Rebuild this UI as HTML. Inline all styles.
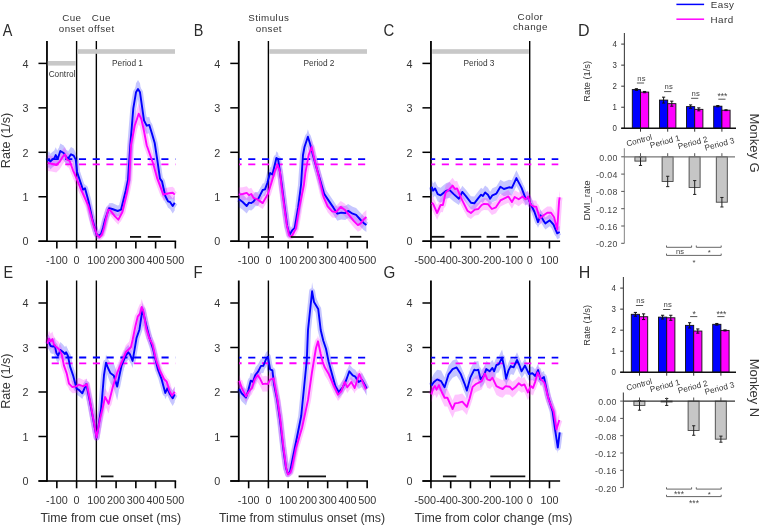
<!DOCTYPE html>
<html><head><meta charset="utf-8"><style>
html,body{margin:0;padding:0;background:#fff;width:760px;height:525px;overflow:hidden}
svg{display:block}
text{font-family:"Liberation Sans", sans-serif}
</style></head><body>
<svg width="760" height="525" viewBox="0 0 760 525">
<line x1="46.97" y1="41.00" x2="46.97" y2="242.00" stroke="#000" stroke-width="1.8" />
<line x1="38.47" y1="241.20" x2="176.15" y2="241.20" stroke="#000" stroke-width="1.6" />
<line x1="38.47" y1="241.20" x2="46.97" y2="241.20" stroke="#000" stroke-width="1.5" />
<line x1="38.47" y1="196.75" x2="46.97" y2="196.75" stroke="#000" stroke-width="1.5" />
<line x1="38.47" y1="152.30" x2="46.97" y2="152.30" stroke="#000" stroke-width="1.5" />
<line x1="38.47" y1="107.85" x2="46.97" y2="107.85" stroke="#000" stroke-width="1.5" />
<line x1="38.47" y1="63.40" x2="46.97" y2="63.40" stroke="#000" stroke-width="1.5" />
<line x1="56.85" y1="241.20" x2="56.85" y2="248.50" stroke="#000" stroke-width="1.6" />
<line x1="76.60" y1="241.20" x2="76.60" y2="248.50" stroke="#000" stroke-width="1.6" />
<line x1="96.35" y1="241.20" x2="96.35" y2="248.50" stroke="#000" stroke-width="1.6" />
<line x1="116.10" y1="241.20" x2="116.10" y2="248.50" stroke="#000" stroke-width="1.6" />
<line x1="135.85" y1="241.20" x2="135.85" y2="248.50" stroke="#000" stroke-width="1.6" />
<line x1="155.60" y1="241.20" x2="155.60" y2="248.50" stroke="#000" stroke-width="1.6" />
<line x1="175.35" y1="241.20" x2="175.35" y2="248.50" stroke="#000" stroke-width="1.6" />
<line x1="238.77" y1="41.00" x2="238.77" y2="242.00" stroke="#000" stroke-width="1.8" />
<line x1="230.27" y1="241.20" x2="367.95" y2="241.20" stroke="#000" stroke-width="1.6" />
<line x1="230.27" y1="241.20" x2="238.77" y2="241.20" stroke="#000" stroke-width="1.5" />
<line x1="230.27" y1="196.75" x2="238.77" y2="196.75" stroke="#000" stroke-width="1.5" />
<line x1="230.27" y1="152.30" x2="238.77" y2="152.30" stroke="#000" stroke-width="1.5" />
<line x1="230.27" y1="107.85" x2="238.77" y2="107.85" stroke="#000" stroke-width="1.5" />
<line x1="230.27" y1="63.40" x2="238.77" y2="63.40" stroke="#000" stroke-width="1.5" />
<line x1="248.65" y1="241.20" x2="248.65" y2="248.50" stroke="#000" stroke-width="1.6" />
<line x1="268.40" y1="241.20" x2="268.40" y2="248.50" stroke="#000" stroke-width="1.6" />
<line x1="288.15" y1="241.20" x2="288.15" y2="248.50" stroke="#000" stroke-width="1.6" />
<line x1="307.90" y1="241.20" x2="307.90" y2="248.50" stroke="#000" stroke-width="1.6" />
<line x1="327.65" y1="241.20" x2="327.65" y2="248.50" stroke="#000" stroke-width="1.6" />
<line x1="347.40" y1="241.20" x2="347.40" y2="248.50" stroke="#000" stroke-width="1.6" />
<line x1="367.15" y1="241.20" x2="367.15" y2="248.50" stroke="#000" stroke-width="1.6" />
<line x1="430.95" y1="41.00" x2="430.95" y2="242.00" stroke="#000" stroke-width="1.8" />
<line x1="422.45" y1="241.20" x2="560.12" y2="241.20" stroke="#000" stroke-width="1.6" />
<line x1="422.45" y1="241.20" x2="430.95" y2="241.20" stroke="#000" stroke-width="1.5" />
<line x1="422.45" y1="196.75" x2="430.95" y2="196.75" stroke="#000" stroke-width="1.5" />
<line x1="422.45" y1="152.30" x2="430.95" y2="152.30" stroke="#000" stroke-width="1.5" />
<line x1="422.45" y1="107.85" x2="430.95" y2="107.85" stroke="#000" stroke-width="1.5" />
<line x1="422.45" y1="63.40" x2="430.95" y2="63.40" stroke="#000" stroke-width="1.5" />
<line x1="430.95" y1="241.20" x2="430.95" y2="248.50" stroke="#000" stroke-width="1.6" />
<line x1="450.70" y1="241.20" x2="450.70" y2="248.50" stroke="#000" stroke-width="1.6" />
<line x1="470.45" y1="241.20" x2="470.45" y2="248.50" stroke="#000" stroke-width="1.6" />
<line x1="490.20" y1="241.20" x2="490.20" y2="248.50" stroke="#000" stroke-width="1.6" />
<line x1="509.95" y1="241.20" x2="509.95" y2="248.50" stroke="#000" stroke-width="1.6" />
<line x1="529.70" y1="241.20" x2="529.70" y2="248.50" stroke="#000" stroke-width="1.6" />
<line x1="549.45" y1="241.20" x2="549.45" y2="248.50" stroke="#000" stroke-width="1.6" />
<line x1="46.97" y1="280.50" x2="46.97" y2="481.80" stroke="#000" stroke-width="1.8" />
<line x1="38.47" y1="481.00" x2="176.15" y2="481.00" stroke="#000" stroke-width="1.6" />
<line x1="38.47" y1="481.00" x2="46.97" y2="481.00" stroke="#000" stroke-width="1.5" />
<line x1="38.47" y1="436.50" x2="46.97" y2="436.50" stroke="#000" stroke-width="1.5" />
<line x1="38.47" y1="392.00" x2="46.97" y2="392.00" stroke="#000" stroke-width="1.5" />
<line x1="38.47" y1="347.50" x2="46.97" y2="347.50" stroke="#000" stroke-width="1.5" />
<line x1="38.47" y1="303.00" x2="46.97" y2="303.00" stroke="#000" stroke-width="1.5" />
<line x1="56.85" y1="481.00" x2="56.85" y2="488.30" stroke="#000" stroke-width="1.6" />
<line x1="76.60" y1="481.00" x2="76.60" y2="488.30" stroke="#000" stroke-width="1.6" />
<line x1="96.35" y1="481.00" x2="96.35" y2="488.30" stroke="#000" stroke-width="1.6" />
<line x1="116.10" y1="481.00" x2="116.10" y2="488.30" stroke="#000" stroke-width="1.6" />
<line x1="135.85" y1="481.00" x2="135.85" y2="488.30" stroke="#000" stroke-width="1.6" />
<line x1="155.60" y1="481.00" x2="155.60" y2="488.30" stroke="#000" stroke-width="1.6" />
<line x1="175.35" y1="481.00" x2="175.35" y2="488.30" stroke="#000" stroke-width="1.6" />
<line x1="238.77" y1="280.50" x2="238.77" y2="481.80" stroke="#000" stroke-width="1.8" />
<line x1="230.27" y1="481.00" x2="367.95" y2="481.00" stroke="#000" stroke-width="1.6" />
<line x1="230.27" y1="481.00" x2="238.77" y2="481.00" stroke="#000" stroke-width="1.5" />
<line x1="230.27" y1="436.50" x2="238.77" y2="436.50" stroke="#000" stroke-width="1.5" />
<line x1="230.27" y1="392.00" x2="238.77" y2="392.00" stroke="#000" stroke-width="1.5" />
<line x1="230.27" y1="347.50" x2="238.77" y2="347.50" stroke="#000" stroke-width="1.5" />
<line x1="230.27" y1="303.00" x2="238.77" y2="303.00" stroke="#000" stroke-width="1.5" />
<line x1="248.65" y1="481.00" x2="248.65" y2="488.30" stroke="#000" stroke-width="1.6" />
<line x1="268.40" y1="481.00" x2="268.40" y2="488.30" stroke="#000" stroke-width="1.6" />
<line x1="288.15" y1="481.00" x2="288.15" y2="488.30" stroke="#000" stroke-width="1.6" />
<line x1="307.90" y1="481.00" x2="307.90" y2="488.30" stroke="#000" stroke-width="1.6" />
<line x1="327.65" y1="481.00" x2="327.65" y2="488.30" stroke="#000" stroke-width="1.6" />
<line x1="347.40" y1="481.00" x2="347.40" y2="488.30" stroke="#000" stroke-width="1.6" />
<line x1="367.15" y1="481.00" x2="367.15" y2="488.30" stroke="#000" stroke-width="1.6" />
<line x1="430.95" y1="280.50" x2="430.95" y2="481.80" stroke="#000" stroke-width="1.8" />
<line x1="422.45" y1="481.00" x2="560.12" y2="481.00" stroke="#000" stroke-width="1.6" />
<line x1="422.45" y1="481.00" x2="430.95" y2="481.00" stroke="#000" stroke-width="1.5" />
<line x1="422.45" y1="436.50" x2="430.95" y2="436.50" stroke="#000" stroke-width="1.5" />
<line x1="422.45" y1="392.00" x2="430.95" y2="392.00" stroke="#000" stroke-width="1.5" />
<line x1="422.45" y1="347.50" x2="430.95" y2="347.50" stroke="#000" stroke-width="1.5" />
<line x1="422.45" y1="303.00" x2="430.95" y2="303.00" stroke="#000" stroke-width="1.5" />
<line x1="430.95" y1="481.00" x2="430.95" y2="488.30" stroke="#000" stroke-width="1.6" />
<line x1="450.70" y1="481.00" x2="450.70" y2="488.30" stroke="#000" stroke-width="1.6" />
<line x1="470.45" y1="481.00" x2="470.45" y2="488.30" stroke="#000" stroke-width="1.6" />
<line x1="490.20" y1="481.00" x2="490.20" y2="488.30" stroke="#000" stroke-width="1.6" />
<line x1="509.95" y1="481.00" x2="509.95" y2="488.30" stroke="#000" stroke-width="1.6" />
<line x1="529.70" y1="481.00" x2="529.70" y2="488.30" stroke="#000" stroke-width="1.6" />
<line x1="549.45" y1="481.00" x2="549.45" y2="488.30" stroke="#000" stroke-width="1.6" />
<line x1="76.60" y1="41.00" x2="76.60" y2="241.20" stroke="#000" stroke-width="1.4" />
<line x1="96.35" y1="41.00" x2="96.35" y2="241.20" stroke="#000" stroke-width="1.4" />
<line x1="76.60" y1="280.50" x2="76.60" y2="481.00" stroke="#000" stroke-width="1.4" />
<line x1="96.35" y1="280.50" x2="96.35" y2="481.00" stroke="#000" stroke-width="1.4" />
<line x1="268.40" y1="41.00" x2="268.40" y2="241.20" stroke="#000" stroke-width="1.4" />
<line x1="268.40" y1="280.50" x2="268.40" y2="481.00" stroke="#000" stroke-width="1.4" />
<line x1="529.70" y1="41.00" x2="529.70" y2="241.20" stroke="#000" stroke-width="1.4" />
<line x1="529.70" y1="280.50" x2="529.70" y2="481.00" stroke="#000" stroke-width="1.4" />
<rect x="47.80" y="61.00" width="28.00" height="4.60" fill="#c8c8c8" stroke="none" stroke-width="0"/>
<rect x="77.50" y="49.20" width="97.50" height="4.60" fill="#c8c8c8" stroke="none" stroke-width="0"/>
<rect x="269.20" y="49.20" width="97.80" height="4.60" fill="#c8c8c8" stroke="none" stroke-width="0"/>
<rect x="432.20" y="49.20" width="96.60" height="4.60" fill="#c8c8c8" stroke="none" stroke-width="0"/>
<line x1="676.40" y1="4.40" x2="704.10" y2="4.40" stroke="#0000ff" stroke-width="1.5" />
<line x1="676.40" y1="19.20" x2="704.10" y2="19.20" stroke="#ff00ff" stroke-width="1.5" />
<g opacity="0.22"><path d="M47.7,153.0 L49.0,151.1 L50.3,153.8 L52.3,151.9 L54.3,150.6 L55.7,147.3 L57.7,151.4 L60.3,143.5 L63.7,145.6 L66.3,149.7 L68.3,151.0 L71.0,147.1 L73.7,148.6 L75.7,152.7 L77.0,165.2 L80.3,176.7 L83.0,185.1 L85.0,184.0 L88.3,196.5 L92.3,215.8 L96.3,231.1 L98.5,233.2 L101.0,230.8 L103.0,224.4 L105.0,216.0 L109.0,203.2 L112.3,203.0 L117.7,205.5 L121.0,204.4 L125.7,186.3 L128.0,175.7 L130.3,140.8 L133.3,101.5 L136.0,83.3 L138.0,80.0 L140.0,83.3 L144.0,111.5 L146.7,117.3 L149.3,116.9 L152.0,126.7 L154.7,137.3 L157.3,155.7 L160.0,174.2 L162.0,176.3 L165.3,190.2 L168.0,194.9 L170.0,195.1 L172.7,198.5 L174.7,194.8 L174.7,210.6 L172.7,213.5 L170.0,208.9 L168.0,207.7 L165.3,201.8 L162.0,186.3 L160.0,183.2 L157.3,164.3 L154.7,148.7 L152.0,140.7 L149.3,133.1 L146.7,134.1 L144.0,129.1 L140.0,101.3 L138.0,98.0 L136.0,101.3 L133.3,115.1 L130.3,149.2 L128.0,184.3 L125.7,195.7 L121.0,214.9 L117.7,216.5 L112.3,215.0 L109.0,213.4 L105.0,224.0 L103.0,231.6 L101.0,237.2 L98.5,238.8 L96.3,236.3 L92.3,222.2 L88.3,204.1 L85.0,192.6 L83.0,194.3 L80.3,186.7 L77.0,178.2 L75.7,166.7 L73.7,162.8 L71.0,161.5 L68.3,165.6 L66.3,164.3 L63.7,160.4 L60.3,158.5 L57.7,166.6 L55.7,162.7 L54.3,166.0 L52.3,167.5 L50.3,169.6 L49.0,166.9 L47.7,169.0Z" fill="#0000ff" stroke="none"/><path d="M47.7,161.0 L49.0,159.0 L50.3,161.7 L52.3,159.7 L54.3,158.3 L55.7,155.0 L57.7,159.0 L60.3,151.0 L63.7,153.0 L66.3,157.0 L68.3,158.3 L71.0,154.3 L73.7,155.7 L75.7,159.7 L77.0,171.7 L80.3,181.7 L83.0,189.7 L85.0,188.3 L88.3,200.3 L92.3,219.0 L96.3,233.7 L98.5,236.0 L101.0,234.0 L103.0,228.0 L105.0,220.0 L109.0,208.3 L112.3,209.0 L117.7,211.0 L121.0,209.7 L125.7,191.0 L128.0,180.0 L130.3,145.0 L133.3,108.3 L136.0,92.3 L138.0,89.0 L140.0,92.3 L144.0,120.3 L146.7,125.7 L149.3,125.0 L152.0,133.7 L154.7,143.0 L157.3,160.0 L160.0,178.7 L162.0,181.3 L165.3,196.0 L168.0,201.3 L170.0,202.0 L172.7,206.0 L174.7,202.7" fill="none" stroke="#0000ff" stroke-width="6" stroke-linejoin="round"/></g>
<g opacity="0.22"><path d="M47.7,155.0 L51.7,155.9 L56.3,157.4 L59.7,154.2 L63.0,148.9 L65.0,147.0 L67.0,152.5 L69.7,153.9 L73.0,163.3 L76.3,171.0 L81.7,184.3 L88.3,200.4 L93.7,222.0 L97.0,232.5 L99.5,234.3 L102.0,231.1 L104.0,224.2 L106.0,214.9 L108.3,205.2 L110.3,205.7 L115.0,211.5 L118.3,214.7 L122.3,207.3 L127.0,187.3 L129.3,174.2 L131.0,138.2 L134.7,116.7 L138.7,103.0 L141.3,109.4 L144.0,122.6 L146.7,137.6 L153.3,157.7 L157.3,172.7 L163.3,188.7 L165.3,188.0 L169.3,187.3 L172.7,186.7 L174.7,188.7 L174.7,200.7 L172.7,198.7 L169.3,199.3 L165.3,200.0 L163.3,200.7 L157.3,184.7 L153.3,170.3 L146.7,153.0 L144.0,139.4 L141.3,128.6 L138.7,124.4 L134.7,134.7 L131.0,151.8 L129.3,185.8 L127.0,197.3 L122.3,217.3 L118.3,224.7 L115.0,221.2 L110.3,214.9 L108.3,214.2 L106.0,223.1 L104.0,231.8 L102.0,237.9 L99.5,240.3 L97.0,237.5 L93.7,229.4 L88.3,211.0 L81.7,197.7 L76.3,185.0 L73.0,177.3 L69.7,168.1 L67.0,166.9 L65.0,161.6 L63.0,163.7 L59.7,169.2 L56.3,172.6 L51.7,171.5 L47.7,171.0Z" fill="#ff00ff" stroke="none"/><path d="M47.7,163.0 L51.7,163.7 L56.3,165.0 L59.7,161.7 L63.0,156.3 L65.0,154.3 L67.0,159.7 L69.7,161.0 L73.0,170.3 L76.3,178.0 L81.7,191.0 L88.3,205.7 L93.7,225.7 L97.0,235.0 L99.5,237.3 L102.0,234.5 L104.0,228.0 L106.0,219.0 L108.3,209.7 L110.3,210.3 L115.0,216.3 L118.3,219.7 L122.3,212.3 L127.0,192.3 L129.3,180.0 L131.0,145.0 L134.7,125.7 L138.7,113.7 L141.3,119.0 L144.0,131.0 L146.7,145.3 L153.3,164.0 L157.3,178.7 L163.3,194.7 L165.3,194.0 L169.3,193.3 L172.7,192.7 L174.7,194.7" fill="none" stroke="#ff00ff" stroke-width="6" stroke-linejoin="round"/></g>
<g opacity="0.22"><path d="M238.7,191.1 L242.7,194.2 L246.7,198.4 L249.0,195.2 L251.3,195.8 L253.6,194.2 L255.3,192.0 L258.1,192.1 L262.7,183.4 L265.0,183.0 L267.3,176.9 L270.1,166.9 L272.4,168.2 L276.4,151.2 L278.1,153.0 L281.8,180.6 L284.5,202.8 L287.2,223.4 L289.6,232.6 L292.4,227.9 L294.7,225.4 L298.1,205.1 L301.0,181.3 L303.0,150.0 L304.5,141.0 L307.9,129.2 L311.0,139.2 L312.9,147.6 L316.1,159.5 L320.1,174.0 L324.1,187.3 L328.7,193.7 L333.3,200.4 L337.3,206.7 L341.3,205.6 L345.3,206.1 L348.1,203.9 L352.7,206.7 L356.1,207.9 L360.7,213.0 L363.6,215.9 L366.4,218.1 L366.4,232.1 L363.6,229.9 L360.7,227.0 L356.1,221.9 L352.7,220.7 L348.1,217.9 L345.3,220.1 L341.3,219.6 L337.3,220.7 L333.3,214.4 L328.7,207.5 L324.1,200.1 L320.1,186.0 L316.1,173.1 L312.9,162.4 L311.0,154.8 L307.9,144.2 L304.5,153.0 L303.0,160.0 L301.0,188.7 L298.1,210.7 L294.7,230.4 L292.4,232.3 L289.6,236.8 L287.2,228.6 L284.5,209.2 L281.8,189.4 L278.1,165.2 L276.4,164.8 L272.4,181.0 L270.1,178.9 L267.3,189.3 L265.0,195.8 L262.7,196.6 L258.1,206.1 L255.3,206.2 L253.6,208.6 L251.3,210.4 L249.0,210.0 L246.7,213.6 L242.7,209.8 L238.7,207.1Z" fill="#0000ff" stroke="none"/><path d="M238.7,199.1 L242.7,202.0 L246.7,206.0 L249.0,202.6 L251.3,203.1 L253.6,201.4 L255.3,199.1 L258.1,199.1 L262.7,190.0 L265.0,189.4 L267.3,183.1 L270.1,172.9 L272.4,174.6 L276.4,158.0 L278.1,159.1 L281.8,185.0 L284.5,206.0 L287.2,226.0 L289.6,234.7 L292.4,230.1 L294.7,227.9 L298.1,207.9 L301.0,185.0 L303.0,155.0 L304.5,147.0 L307.9,136.7 L311.0,147.0 L312.9,155.0 L316.1,166.3 L320.1,180.0 L324.1,193.7 L328.7,200.6 L333.3,207.4 L337.3,213.7 L341.3,212.6 L345.3,213.1 L348.1,210.9 L352.7,213.7 L356.1,214.9 L360.7,220.0 L363.6,222.9 L366.4,225.1" fill="none" stroke="#0000ff" stroke-width="6" stroke-linejoin="round"/></g>
<g opacity="0.22"><path d="M238.7,187.6 L242.7,187.2 L246.7,186.3 L249.0,188.7 L251.3,187.7 L253.6,191.8 L257.0,193.0 L262.7,197.1 L267.9,188.0 L271.3,177.1 L274.7,165.7 L277.6,159.4 L280.0,167.3 L281.5,181.8 L284.3,203.8 L286.8,222.4 L289.0,232.8 L290.1,234.5 L292.4,233.1 L295.9,225.8 L299.3,205.0 L301.6,192.7 L303.9,180.4 L305.3,167.9 L308.7,148.3 L311.7,139.1 L313.9,149.6 L317.9,166.6 L319.6,173.9 L323.6,191.1 L327.6,200.3 L332.1,205.4 L336.1,206.0 L340.7,200.9 L344.7,203.5 L349.3,209.0 L353.9,214.6 L357.9,218.4 L360.7,216.6 L363.6,212.5 L366.4,210.1 L366.4,224.1 L363.6,226.3 L360.7,230.2 L357.9,231.8 L353.9,227.6 L349.3,221.8 L344.7,215.9 L340.7,212.9 L336.1,218.0 L332.1,217.4 L327.6,212.3 L323.6,203.1 L319.6,186.1 L317.9,179.6 L313.9,164.6 L311.7,154.9 L308.7,161.5 L305.3,178.3 L303.9,189.6 L301.6,200.1 L299.3,210.8 L295.9,231.0 L292.4,237.5 L290.1,238.5 L289.0,237.2 L286.8,227.6 L284.3,210.2 L281.5,190.2 L280.0,176.7 L277.6,170.4 L274.7,177.7 L271.3,189.1 L267.9,200.0 L262.7,209.1 L257.0,205.2 L253.6,204.2 L251.3,200.3 L249.0,201.5 L246.7,199.5 L242.7,200.8 L238.7,201.6Z" fill="#ff00ff" stroke="none"/><path d="M238.7,194.6 L242.7,194.0 L246.7,192.9 L249.0,195.1 L251.3,194.0 L253.6,198.0 L257.0,199.1 L262.7,203.1 L267.9,194.0 L271.3,183.1 L274.7,171.7 L277.6,164.9 L280.0,172.0 L281.5,186.0 L284.3,207.0 L286.8,225.0 L289.0,235.0 L290.1,236.5 L292.4,235.3 L295.9,228.4 L299.3,207.9 L301.6,196.4 L303.9,185.0 L305.3,173.1 L308.7,154.9 L311.7,147.0 L313.9,157.1 L317.9,173.1 L319.6,180.0 L323.6,197.1 L327.6,206.3 L332.1,211.4 L336.1,212.0 L340.7,206.9 L344.7,209.7 L349.3,215.4 L353.9,221.1 L357.9,225.1 L360.7,223.4 L363.6,219.4 L366.4,217.1" fill="none" stroke="#ff00ff" stroke-width="6" stroke-linejoin="round"/></g>
<g opacity="0.22"><path d="M431.7,179.7 L433.1,183.6 L435.1,181.2 L437.7,186.7 L440.6,187.8 L443.4,185.3 L446.3,182.9 L449.7,182.1 L453.7,186.8 L458.9,192.5 L462.3,185.8 L465.7,189.6 L470.9,196.2 L474.3,196.6 L478.3,191.2 L481.1,187.7 L482.9,188.9 L485.1,185.4 L487.9,187.7 L490.1,191.7 L492.4,188.3 L496.4,186.6 L500.4,179.7 L503.9,181.8 L509.0,179.7 L511.9,180.2 L516.4,170.2 L521.6,180.7 L525.6,192.1 L527.9,191.3 L530.6,198.0 L534.3,205.5 L538.0,216.1 L540.5,209.3 L543.6,214.9 L545.4,217.4 L549.8,214.3 L553.5,218.6 L557.2,227.3 L559.7,226.0 L559.7,238.0 L557.2,239.3 L553.5,230.6 L549.8,226.3 L545.4,229.4 L543.6,226.9 L540.5,221.3 L538.0,228.1 L534.3,217.5 L530.6,210.0 L527.9,203.9 L525.6,205.3 L521.6,195.1 L516.4,186.0 L511.9,195.6 L509.0,194.9 L503.9,196.2 L500.4,193.7 L496.4,200.6 L492.4,202.3 L490.1,205.7 L487.9,201.7 L485.1,199.4 L482.9,202.9 L481.1,201.7 L478.3,205.0 L474.3,210.0 L470.9,209.2 L465.7,202.2 L462.3,198.0 L458.9,204.9 L453.7,201.4 L449.7,198.1 L446.3,198.5 L443.4,200.7 L440.6,202.8 L437.7,201.5 L435.1,195.6 L433.1,197.8 L431.7,193.7Z" fill="#0000ff" stroke="none"/><path d="M431.7,186.7 L433.1,190.7 L435.1,188.4 L437.7,194.1 L440.6,195.3 L443.4,193.0 L446.3,190.7 L449.7,190.1 L453.7,194.1 L458.9,198.7 L462.3,191.9 L465.7,195.9 L470.9,202.7 L474.3,203.3 L478.3,198.1 L481.1,194.7 L482.9,195.9 L485.1,192.4 L487.9,194.7 L490.1,198.7 L492.4,195.3 L496.4,193.6 L500.4,186.7 L503.9,189.0 L509.0,187.3 L511.9,187.9 L516.4,178.1 L521.6,187.9 L525.6,198.7 L527.9,197.6 L530.6,204.0 L534.3,211.5 L538.0,222.1 L540.5,215.3 L543.6,220.9 L545.4,223.4 L549.8,220.3 L553.5,224.6 L557.2,233.3 L559.7,232.0" fill="none" stroke="#0000ff" stroke-width="6" stroke-linejoin="round"/></g>
<g opacity="0.22"><path d="M431.7,195.7 L433.1,196.9 L437.1,206.0 L440.6,197.9 L442.9,197.8 L445.7,184.9 L448.6,182.4 L452.6,177.7 L454.9,181.3 L457.1,181.0 L461.1,191.1 L467.4,204.4 L470.9,207.0 L474.9,203.6 L478.3,203.0 L481.7,199.0 L484.0,197.9 L488.0,198.2 L491.9,203.0 L495.9,201.3 L500.4,194.4 L505.0,191.8 L508.4,190.0 L511.9,195.5 L514.7,190.3 L518.7,192.4 L522.7,189.7 L525.6,192.9 L528.0,190.3 L530.6,198.5 L533.6,200.5 L536.2,200.6 L539.9,212.4 L543.6,209.3 L547.3,206.6 L551.0,206.4 L554.1,210.6 L557.2,222.8 L559.1,194.2 L559.7,190.3 L559.7,204.3 L559.1,208.0 L557.2,236.4 L554.1,223.8 L551.0,219.2 L547.3,219.0 L543.6,221.3 L539.9,224.4 L536.2,212.6 L533.6,212.5 L530.6,210.5 L528.0,202.7 L525.6,205.7 L522.7,203.1 L518.7,206.2 L514.7,203.7 L511.9,208.7 L508.4,202.8 L505.0,204.3 L500.4,206.4 L495.9,213.3 L491.9,215.0 L488.0,210.2 L484.0,209.9 L481.7,211.0 L478.3,215.0 L474.9,215.6 L470.9,219.0 L467.4,217.0 L461.1,205.1 L457.1,195.8 L454.9,196.7 L452.6,193.5 L448.6,197.8 L445.7,199.9 L442.9,212.2 L440.6,212.1 L437.1,220.0 L433.1,210.9 L431.7,209.7Z" fill="#ff00ff" stroke="none"/><path d="M431.7,202.7 L433.1,203.9 L437.1,213.0 L440.6,205.0 L442.9,205.0 L445.7,192.4 L448.6,190.1 L452.6,185.6 L454.9,189.0 L457.1,188.4 L461.1,198.1 L467.4,210.7 L470.9,213.0 L474.9,209.6 L478.3,209.0 L481.7,205.0 L484.0,203.9 L488.0,204.2 L491.9,209.0 L495.9,207.3 L500.4,200.4 L505.0,198.1 L508.4,196.4 L511.9,202.1 L514.7,197.0 L518.7,199.3 L522.7,196.4 L525.6,199.3 L528.0,196.5 L530.6,204.5 L533.6,206.5 L536.2,206.6 L539.9,218.4 L543.6,215.3 L547.3,212.8 L551.0,212.8 L554.1,217.2 L557.2,229.6 L559.1,201.1 L559.7,197.3" fill="none" stroke="#ff00ff" stroke-width="6" stroke-linejoin="round"/></g>
<g opacity="0.22"><path d="M47.5,333.9 L49.0,335.4 L50.7,338.7 L53.0,339.1 L54.7,337.8 L56.4,345.2 L58.1,347.8 L60.4,342.1 L62.7,344.2 L65.0,347.0 L66.1,345.5 L67.9,349.3 L70.1,360.6 L73.0,369.1 L76.6,382.7 L78.9,383.9 L82.3,387.5 L86.3,378.7 L90.3,398.8 L96.6,435.3 L101.1,404.6 L104.0,368.3 L106.0,354.6 L108.0,358.9 L110.3,362.6 L113.7,363.2 L117.2,372.8 L121.4,356.2 L125.7,347.8 L128.3,345.0 L130.0,347.3 L132.6,353.9 L136.6,330.7 L139.4,322.7 L142.5,302.6 L145.7,316.4 L149.1,330.5 L153.1,343.4 L154.9,351.5 L158.0,364.5 L161.3,373.0 L165.3,386.7 L167.3,381.5 L170.0,387.0 L172.7,390.6 L174.7,386.3 L174.7,402.3 L172.7,406.0 L170.0,401.6 L167.3,395.1 L165.3,399.3 L161.3,383.6 L158.0,374.9 L154.9,362.5 L153.1,354.8 L149.1,342.7 L145.7,329.4 L142.5,316.4 L139.4,336.7 L136.6,344.7 L132.6,367.9 L130.0,361.3 L128.3,359.6 L125.7,363.6 L121.4,375.8 L117.2,400.4 L113.7,387.6 L110.3,383.2 L108.0,377.1 L106.0,370.6 L104.0,381.7 L101.1,414.0 L96.6,439.9 L90.3,408.5 L86.3,389.5 L82.3,399.1 L78.9,395.9 L76.6,394.7 L73.0,381.1 L70.1,372.6 L67.9,362.1 L66.1,359.1 L65.0,361.0 L62.7,359.2 L60.4,357.9 L58.1,363.6 L56.4,360.6 L54.7,353.0 L53.0,354.1 L50.7,353.3 L49.0,349.8 L47.5,347.9Z" fill="#0000ff" stroke="none"/><path d="M47.5,340.9 L49.0,342.6 L50.7,346.0 L53.0,346.6 L54.7,345.4 L56.4,352.9 L58.1,355.7 L60.4,350.0 L62.7,351.7 L65.0,354.0 L66.1,352.3 L67.9,355.7 L70.1,366.6 L73.0,375.1 L76.6,388.7 L78.9,389.9 L82.3,393.3 L86.3,384.1 L90.3,403.6 L96.6,437.6 L101.1,409.3 L104.0,375.0 L106.0,362.6 L108.0,368.0 L110.3,372.9 L113.7,375.4 L117.2,386.6 L121.4,366.0 L125.7,355.7 L128.3,352.3 L130.0,354.3 L132.6,360.9 L136.6,337.7 L139.4,329.7 L142.5,309.5 L145.7,322.9 L149.1,336.6 L153.1,349.1 L154.9,357.0 L158.0,369.7 L161.3,378.3 L165.3,393.0 L167.3,388.3 L170.0,394.3 L172.7,398.3 L174.7,394.3" fill="none" stroke="#0000ff" stroke-width="6" stroke-linejoin="round"/></g>
<g opacity="0.22"><path d="M47.5,335.7 L49.0,330.8 L50.7,333.7 L52.4,331.5 L54.1,337.4 L56.4,339.8 L58.7,341.8 L61.6,347.2 L63.9,358.8 L66.7,367.1 L69.0,377.6 L72.4,380.9 L76.0,379.8 L78.9,377.8 L83.4,380.1 L86.9,378.5 L89.1,390.4 L96.6,435.1 L100.0,413.6 L102.9,399.1 L105.1,388.1 L108.6,394.1 L112.9,378.7 L117.2,365.9 L122.3,353.9 L125.7,345.3 L130.9,339.8 L132.6,332.5 L135.4,318.7 L137.7,308.8 L140.0,305.8 L141.7,299.1 L143.4,303.9 L146.3,321.8 L149.1,331.5 L152.6,338.9 L156.0,354.3 L160.0,366.0 L164.0,374.0 L166.7,376.7 L169.3,385.3 L172.0,390.7 L174.7,386.7 L174.7,396.7 L172.0,400.7 L169.3,395.3 L166.7,386.7 L164.0,384.0 L160.0,376.0 L156.0,365.1 L152.6,350.3 L149.1,343.9 L146.3,335.4 L143.4,318.9 L141.7,314.7 L140.0,321.6 L137.7,324.4 L135.4,333.9 L132.6,347.5 L130.9,354.6 L125.7,359.3 L122.3,367.9 L117.2,379.9 L112.9,394.5 L108.6,413.5 L105.1,405.7 L102.9,414.9 L100.0,424.4 L96.6,440.1 L89.1,400.8 L86.9,389.7 L83.4,392.7 L78.9,391.6 L76.0,393.0 L72.4,393.3 L69.0,389.8 L66.7,379.7 L63.9,372.0 L61.6,360.8 L58.7,356.0 L56.4,354.4 L54.1,352.4 L52.4,346.7 L50.7,349.1 L49.0,346.4 L47.5,351.7Z" fill="#ff00ff" stroke="none"/><path d="M47.5,343.7 L49.0,338.6 L50.7,341.4 L52.4,339.1 L54.1,344.9 L56.4,347.1 L58.7,348.9 L61.6,354.0 L63.9,365.4 L66.7,373.4 L69.0,383.7 L72.4,387.1 L76.0,386.4 L78.9,384.7 L83.4,386.4 L86.9,384.1 L89.1,395.6 L96.6,437.6 L100.0,419.0 L102.9,407.0 L105.1,396.9 L108.6,403.8 L112.9,386.6 L117.2,372.9 L122.3,360.9 L125.7,352.3 L130.9,347.2 L132.6,340.0 L135.4,326.3 L137.7,316.6 L140.0,313.7 L141.7,306.9 L143.4,311.4 L146.3,328.6 L149.1,337.7 L152.6,344.6 L156.0,359.7 L160.0,371.0 L164.0,379.0 L166.7,381.7 L169.3,390.3 L172.0,395.7 L174.7,391.7" fill="none" stroke="#ff00ff" stroke-width="6" stroke-linejoin="round"/></g>
<g opacity="0.22"><path d="M239.3,380.7 L241.6,385.3 L246.0,389.5 L248.4,382.0 L250.7,372.7 L253.0,374.1 L255.3,367.4 L258.1,364.1 L261.0,358.6 L263.3,358.8 L266.1,352.3 L267.9,350.6 L270.1,363.8 L272.4,365.6 L274.0,379.7 L277.2,396.4 L280.0,417.0 L283.2,445.6 L286.0,466.0 L288.0,472.0 L290.0,470.0 L294.0,450.0 L298.0,429.7 L301.2,413.4 L304.0,385.2 L306.8,356.2 L308.0,325.0 L312.1,282.3 L314.0,293.8 L318.2,302.2 L320.7,324.0 L323.3,334.7 L326.0,342.7 L328.7,356.0 L332.0,368.0 L335.3,380.0 L338.7,385.8 L342.7,380.8 L346.0,374.0 L349.3,364.3 L352.7,368.3 L355.3,369.7 L358.7,375.0 L362.0,373.0 L364.7,377.7 L366.7,381.7 L366.7,395.7 L364.7,391.7 L362.0,387.0 L358.7,389.0 L355.3,383.7 L352.7,382.3 L349.3,378.3 L346.0,387.4 L342.7,393.8 L338.7,398.2 L335.3,392.0 L332.0,380.0 L328.7,368.0 L326.0,354.7 L323.3,346.7 L320.7,336.0 L318.2,315.6 L314.0,310.2 L312.1,300.3 L308.0,335.0 L306.8,363.8 L304.0,390.8 L301.2,418.6 L298.0,434.3 L294.0,454.0 L290.0,474.0 L288.0,476.0 L286.0,470.0 L283.2,450.4 L280.0,423.0 L277.2,403.6 L274.0,388.3 L272.4,375.2 L270.1,374.8 L267.9,362.8 L266.1,365.7 L263.3,373.0 L261.0,373.2 L258.1,379.1 L255.3,382.6 L253.0,389.7 L250.7,388.7 L248.4,398.0 L246.0,405.5 L241.6,401.3 L239.3,396.7Z" fill="#0000ff" stroke="none"/><path d="M239.3,388.7 L241.6,393.3 L246.0,397.5 L248.4,390.0 L250.7,380.7 L253.0,381.9 L255.3,375.0 L258.1,371.6 L261.0,365.9 L263.3,365.9 L266.1,359.0 L267.9,356.7 L270.1,369.3 L272.4,370.4 L274.0,384.0 L277.2,400.0 L280.0,420.0 L283.2,448.0 L286.0,468.0 L288.0,474.0 L290.0,472.0 L294.0,452.0 L298.0,432.0 L301.2,416.0 L304.0,388.0 L306.8,360.0 L308.0,330.0 L312.1,291.3 L314.0,302.0 L318.2,308.9 L320.7,330.0 L323.3,340.7 L326.0,348.7 L328.7,362.0 L332.0,374.0 L335.3,386.0 L338.7,392.0 L342.7,387.3 L346.0,380.7 L349.3,371.3 L352.7,375.3 L355.3,376.7 L358.7,382.0 L362.0,380.0 L364.7,384.7 L366.7,388.7" fill="none" stroke="#0000ff" stroke-width="6" stroke-linejoin="round"/></g>
<g opacity="0.22"><path d="M239.3,374.7 L241.6,381.6 L246.0,390.4 L248.4,386.1 L251.9,381.7 L254.7,373.0 L257.6,368.0 L259.9,371.1 L262.7,376.4 L265.6,375.7 L267.9,376.7 L270.1,372.6 L273.6,372.1 L275.0,380.0 L277.7,396.1 L280.5,417.2 L283.5,445.4 L286.2,466.0 L288.0,472.5 L290.5,470.5 L292.0,466.0 L296.0,445.9 L302.0,425.1 L308.0,396.3 L312.0,367.5 L316.0,342.5 L318.0,335.3 L320.7,347.2 L322.7,354.7 L324.7,359.4 L328.7,366.5 L333.3,377.8 L338.0,388.4 L341.3,385.4 L344.7,376.2 L347.3,381.6 L351.3,376.4 L354.7,382.6 L359.3,368.7 L362.7,376.9 L366.0,384.3 L366.0,394.3 L362.7,387.1 L359.3,379.3 L354.7,393.4 L351.3,387.6 L347.3,393.0 L344.7,387.8 L341.3,397.2 L338.0,401.0 L333.3,391.6 L328.7,381.5 L324.7,375.2 L322.7,369.3 L320.7,360.8 L318.0,347.3 L316.0,353.5 L312.0,376.5 L308.0,403.7 L302.0,430.9 L296.0,450.1 L292.0,470.0 L290.5,474.5 L288.0,476.5 L286.2,470.0 L283.5,450.6 L280.5,424.8 L277.7,405.9 L275.0,392.0 L273.6,384.7 L270.1,386.6 L267.9,391.5 L265.6,391.5 L262.7,391.8 L259.9,385.7 L257.6,382.0 L254.7,386.2 L251.9,394.3 L248.4,398.1 L246.0,402.4 L241.6,393.6 L239.3,386.7Z" fill="#ff00ff" stroke="none"/><path d="M239.3,380.7 L241.6,387.6 L246.0,396.4 L248.4,392.1 L251.9,388.0 L254.7,379.6 L257.6,375.0 L259.9,378.4 L262.7,384.1 L265.6,383.6 L267.9,384.1 L270.1,379.6 L273.6,378.4 L275.0,386.0 L277.7,401.0 L280.5,421.0 L283.5,448.0 L286.2,468.0 L288.0,474.5 L290.5,472.5 L292.0,468.0 L296.0,448.0 L302.0,428.0 L308.0,400.0 L312.0,372.0 L316.0,348.0 L318.0,341.3 L320.7,354.0 L322.7,362.0 L324.7,367.3 L328.7,374.0 L333.3,384.7 L338.0,394.7 L341.3,391.3 L344.7,382.0 L347.3,387.3 L351.3,382.0 L354.7,388.0 L359.3,374.0 L362.7,382.0 L366.0,389.3" fill="none" stroke="#ff00ff" stroke-width="6" stroke-linejoin="round"/></g>
<g opacity="0.22"><path d="M431.4,378.5 L433.7,374.1 L437.1,369.7 L441.1,370.4 L444.6,377.4 L448.6,365.4 L452.6,360.5 L456.6,359.1 L460.6,365.6 L464.6,375.3 L466.9,381.9 L470.3,368.7 L474.3,360.9 L476.0,361.6 L478.3,361.1 L480.6,370.9 L484.0,367.1 L486.3,360.9 L489.6,363.3 L492.4,359.9 L494.1,363.3 L496.4,357.0 L498.7,356.4 L502.1,349.6 L504.4,359.9 L506.1,370.7 L508.4,362.7 L510.7,358.1 L513.6,359.5 L517.0,352.2 L519.3,357.5 L521.6,363.9 L525.0,358.4 L529.0,366.9 L532.6,366.5 L535.3,369.4 L538.1,363.6 L540.4,373.2 L544.0,371.0 L547.9,390.2 L552.6,405.4 L555.5,426.4 L557.8,441.6 L559.7,426.4 L559.7,438.4 L557.8,453.6 L555.5,438.4 L552.6,417.4 L547.9,402.2 L544.0,383.2 L540.4,385.8 L538.1,376.6 L535.3,382.6 L532.6,380.1 L529.0,381.1 L525.0,372.9 L521.6,378.7 L519.3,372.5 L517.0,367.5 L513.6,375.1 L510.7,374.1 L508.4,378.7 L506.1,386.7 L504.4,375.9 L502.1,365.6 L498.7,372.4 L496.4,373.0 L494.1,379.3 L492.4,375.9 L489.6,379.3 L486.3,377.3 L484.0,383.7 L480.6,387.9 L478.3,378.3 L476.0,379.0 L474.3,378.5 L470.3,386.7 L466.9,399.3 L464.6,392.3 L460.6,381.8 L456.6,375.7 L452.6,377.7 L448.6,383.2 L444.6,397.0 L441.1,391.8 L437.1,389.1 L433.7,390.5 L431.4,392.9Z" fill="#0000ff" stroke="none"/><path d="M431.4,385.7 L433.7,382.3 L437.1,379.4 L441.1,381.1 L444.6,387.2 L448.6,374.3 L452.6,369.1 L456.6,367.4 L460.6,373.7 L464.6,383.8 L466.9,390.6 L470.3,377.7 L474.3,369.7 L476.0,370.3 L478.3,369.7 L480.6,379.4 L484.0,375.4 L486.3,369.1 L489.6,371.3 L492.4,367.9 L494.1,371.3 L496.4,365.0 L498.7,364.4 L502.1,357.6 L504.4,367.9 L506.1,378.7 L508.4,370.7 L510.7,366.1 L513.6,367.3 L517.0,359.9 L519.3,365.0 L521.6,371.3 L525.0,365.6 L529.0,374.0 L532.6,373.3 L535.3,376.0 L538.1,370.1 L540.4,379.5 L544.0,377.1 L547.9,396.2 L552.6,411.4 L555.5,432.4 L557.8,447.6 L559.7,432.4" fill="none" stroke="#0000ff" stroke-width="6" stroke-linejoin="round"/></g>
<g opacity="0.22"><path d="M431.4,386.5 L433.1,380.5 L434.9,377.8 L436.6,381.4 L438.9,376.7 L441.7,383.4 L444.6,389.0 L447.4,388.8 L449.7,393.9 L452.6,400.3 L454.9,394.7 L458.3,394.5 L462.3,393.5 L466.9,398.9 L469.7,390.3 L472.6,378.9 L476.0,376.0 L478.3,374.8 L481.7,372.8 L485.0,365.1 L487.3,370.8 L490.1,371.8 L492.4,368.9 L496.4,377.2 L499.9,378.9 L502.7,380.3 L505.6,377.7 L509.6,378.7 L512.4,381.8 L515.3,379.8 L518.7,376.2 L521.6,378.4 L524.4,377.0 L527.9,384.6 L530.7,378.2 L533.0,380.3 L535.3,374.3 L537.6,365.4 L541.0,372.8 L544.4,376.6 L548.8,393.7 L553.6,404.7 L556.4,422.6 L559.3,413.0 L559.3,427.0 L556.4,436.4 L553.6,418.1 L548.8,406.3 L544.4,388.8 L541.0,385.8 L537.6,379.4 L535.3,388.9 L533.0,395.5 L530.7,394.0 L527.9,400.2 L524.4,391.8 L521.6,392.8 L518.7,390.4 L515.3,394.8 L512.4,397.4 L509.6,394.7 L505.6,394.5 L502.7,397.7 L499.9,396.9 L496.4,395.0 L492.4,386.3 L490.1,389.0 L487.3,387.8 L485.0,381.9 L481.7,389.4 L478.3,391.0 L476.0,392.0 L472.6,394.9 L469.7,406.3 L466.9,414.9 L462.3,409.9 L458.3,411.3 L454.9,412.1 L452.6,417.9 L449.7,411.9 L447.4,406.6 L444.6,406.4 L441.7,400.6 L438.9,393.5 L436.6,398.0 L434.9,394.2 L433.1,396.7 L431.4,402.5Z" fill="#ff00ff" stroke="none"/><path d="M431.4,394.5 L433.1,388.6 L434.9,386.0 L436.6,389.7 L438.9,385.1 L441.7,392.0 L444.6,397.7 L447.4,397.7 L449.7,402.9 L452.6,409.1 L454.9,403.4 L458.3,402.9 L462.3,401.7 L466.9,406.9 L469.7,398.3 L472.6,386.9 L476.0,384.0 L478.3,382.9 L481.7,381.1 L485.0,373.5 L487.3,379.3 L490.1,380.4 L492.4,377.6 L496.4,386.1 L499.9,387.9 L502.7,389.0 L505.6,386.1 L509.6,386.7 L512.4,389.6 L515.3,387.3 L518.7,383.3 L521.6,385.6 L524.4,384.4 L527.9,392.4 L530.7,386.1 L533.0,387.9 L535.3,381.6 L537.6,372.4 L541.0,379.3 L544.4,382.7 L548.8,400.0 L553.6,411.4 L556.4,429.5 L559.3,420.0" fill="none" stroke="#ff00ff" stroke-width="6" stroke-linejoin="round"/></g>
<line x1="51.5" y1="159.1" x2="175.4" y2="159.1" stroke="#0000ff" stroke-width="1.9" stroke-dasharray="7.1 6.63" stroke-dashoffset="0"/>
<line x1="51.5" y1="164.4" x2="175.4" y2="164.4" stroke="#ff00ff" stroke-width="1.9" stroke-dasharray="7.1 6.63" stroke-dashoffset="0"/>
<line x1="239.2" y1="159.1" x2="365.5" y2="159.1" stroke="#0000ff" stroke-width="1.9" stroke-dasharray="7.1 6.63" stroke-dashoffset="4.7"/>
<line x1="239.2" y1="164.4" x2="365.5" y2="164.4" stroke="#ff00ff" stroke-width="1.9" stroke-dasharray="7.1 6.63" stroke-dashoffset="4.7"/>
<line x1="431.2" y1="159.1" x2="558.3" y2="159.1" stroke="#0000ff" stroke-width="1.9" stroke-dasharray="7.1 6.63" stroke-dashoffset="3.1"/>
<line x1="431.2" y1="164.4" x2="558.3" y2="164.4" stroke="#ff00ff" stroke-width="1.9" stroke-dasharray="7.1 6.63" stroke-dashoffset="3.1"/>
<line x1="51.7" y1="357.5" x2="175.4" y2="357.5" stroke="#0000ff" stroke-width="1.9" stroke-dasharray="7.1 6.63" stroke-dashoffset="0"/>
<line x1="51.7" y1="363.4" x2="175.4" y2="363.4" stroke="#ff00ff" stroke-width="1.9" stroke-dasharray="7.1 6.63" stroke-dashoffset="0"/>
<line x1="239.2" y1="357.6" x2="365.5" y2="357.6" stroke="#0000ff" stroke-width="1.9" stroke-dasharray="7.1 6.63" stroke-dashoffset="4.7"/>
<line x1="239.2" y1="363.3" x2="365.5" y2="363.3" stroke="#ff00ff" stroke-width="1.9" stroke-dasharray="7.1 6.63" stroke-dashoffset="4.7"/>
<line x1="431.2" y1="357.6" x2="558.3" y2="357.6" stroke="#0000ff" stroke-width="1.9" stroke-dasharray="7.1 6.63" stroke-dashoffset="3.1"/>
<line x1="431.2" y1="363.4" x2="558.3" y2="363.4" stroke="#ff00ff" stroke-width="1.9" stroke-dasharray="7.1 6.63" stroke-dashoffset="3.1"/>
<path d="M47.7,161.0 L49.0,159.0 L50.3,161.7 L52.3,159.7 L54.3,158.3 L55.7,155.0 L57.7,159.0 L60.3,151.0 L63.7,153.0 L66.3,157.0 L68.3,158.3 L71.0,154.3 L73.7,155.7 L75.7,159.7 L77.0,171.7 L80.3,181.7 L83.0,189.7 L85.0,188.3 L88.3,200.3 L92.3,219.0 L96.3,233.7 L98.5,236.0 L101.0,234.0 L103.0,228.0 L105.0,220.0 L109.0,208.3 L112.3,209.0 L117.7,211.0 L121.0,209.7 L125.7,191.0 L128.0,180.0 L130.3,145.0 L133.3,108.3 L136.0,92.3 L138.0,89.0 L140.0,92.3 L144.0,120.3 L146.7,125.7 L149.3,125.0 L152.0,133.7 L154.7,143.0 L157.3,160.0 L160.0,178.7 L162.0,181.3 L165.3,196.0 L168.0,201.3 L170.0,202.0 L172.7,206.0 L174.7,202.7" fill="none" stroke="#0000ff" stroke-width="1.9" stroke-linejoin="round"/>
<path d="M47.7,163.0 L51.7,163.7 L56.3,165.0 L59.7,161.7 L63.0,156.3 L65.0,154.3 L67.0,159.7 L69.7,161.0 L73.0,170.3 L76.3,178.0 L81.7,191.0 L88.3,205.7 L93.7,225.7 L97.0,235.0 L99.5,237.3 L102.0,234.5 L104.0,228.0 L106.0,219.0 L108.3,209.7 L110.3,210.3 L115.0,216.3 L118.3,219.7 L122.3,212.3 L127.0,192.3 L129.3,180.0 L131.0,145.0 L134.7,125.7 L138.7,113.7 L141.3,119.0 L144.0,131.0 L146.7,145.3 L153.3,164.0 L157.3,178.7 L163.3,194.7 L165.3,194.0 L169.3,193.3 L172.7,192.7 L174.7,194.7" fill="none" stroke="#ff00ff" stroke-width="1.9" stroke-linejoin="round"/>
<line x1="130.00" y1="236.90" x2="141.10" y2="236.90" stroke="#111" stroke-width="1.8" />
<line x1="147.80" y1="236.90" x2="160.80" y2="236.90" stroke="#111" stroke-width="1.8" />
<path d="M238.7,199.1 L242.7,202.0 L246.7,206.0 L249.0,202.6 L251.3,203.1 L253.6,201.4 L255.3,199.1 L258.1,199.1 L262.7,190.0 L265.0,189.4 L267.3,183.1 L270.1,172.9 L272.4,174.6 L276.4,158.0 L278.1,159.1 L281.8,185.0 L284.5,206.0 L287.2,226.0 L289.6,234.7 L292.4,230.1 L294.7,227.9 L298.1,207.9 L301.0,185.0 L303.0,155.0 L304.5,147.0 L307.9,136.7 L311.0,147.0 L312.9,155.0 L316.1,166.3 L320.1,180.0 L324.1,193.7 L328.7,200.6 L333.3,207.4 L337.3,213.7 L341.3,212.6 L345.3,213.1 L348.1,210.9 L352.7,213.7 L356.1,214.9 L360.7,220.0 L363.6,222.9 L366.4,225.1" fill="none" stroke="#0000ff" stroke-width="1.9" stroke-linejoin="round"/>
<path d="M238.7,194.6 L242.7,194.0 L246.7,192.9 L249.0,195.1 L251.3,194.0 L253.6,198.0 L257.0,199.1 L262.7,203.1 L267.9,194.0 L271.3,183.1 L274.7,171.7 L277.6,164.9 L280.0,172.0 L281.5,186.0 L284.3,207.0 L286.8,225.0 L289.0,235.0 L290.1,236.5 L292.4,235.3 L295.9,228.4 L299.3,207.9 L301.6,196.4 L303.9,185.0 L305.3,173.1 L308.7,154.9 L311.7,147.0 L313.9,157.1 L317.9,173.1 L319.6,180.0 L323.6,197.1 L327.6,206.3 L332.1,211.4 L336.1,212.0 L340.7,206.9 L344.7,209.7 L349.3,215.4 L353.9,221.1 L357.9,225.1 L360.7,223.4 L363.6,219.4 L366.4,217.1" fill="none" stroke="#ff00ff" stroke-width="1.9" stroke-linejoin="round"/>
<line x1="261.00" y1="237.00" x2="274.00" y2="237.00" stroke="#111" stroke-width="1.8" />
<line x1="290.70" y1="237.00" x2="313.60" y2="237.00" stroke="#111" stroke-width="1.8" />
<line x1="349.90" y1="236.80" x2="361.30" y2="236.80" stroke="#111" stroke-width="1.8" />
<path d="M431.7,186.7 L433.1,190.7 L435.1,188.4 L437.7,194.1 L440.6,195.3 L443.4,193.0 L446.3,190.7 L449.7,190.1 L453.7,194.1 L458.9,198.7 L462.3,191.9 L465.7,195.9 L470.9,202.7 L474.3,203.3 L478.3,198.1 L481.1,194.7 L482.9,195.9 L485.1,192.4 L487.9,194.7 L490.1,198.7 L492.4,195.3 L496.4,193.6 L500.4,186.7 L503.9,189.0 L509.0,187.3 L511.9,187.9 L516.4,178.1 L521.6,187.9 L525.6,198.7 L527.9,197.6 L530.6,204.0 L534.3,211.5 L538.0,222.1 L540.5,215.3 L543.6,220.9 L545.4,223.4 L549.8,220.3 L553.5,224.6 L557.2,233.3 L559.7,232.0" fill="none" stroke="#0000ff" stroke-width="1.9" stroke-linejoin="round"/>
<path d="M431.7,202.7 L433.1,203.9 L437.1,213.0 L440.6,205.0 L442.9,205.0 L445.7,192.4 L448.6,190.1 L452.6,185.6 L454.9,189.0 L457.1,188.4 L461.1,198.1 L467.4,210.7 L470.9,213.0 L474.9,209.6 L478.3,209.0 L481.7,205.0 L484.0,203.9 L488.0,204.2 L491.9,209.0 L495.9,207.3 L500.4,200.4 L505.0,198.1 L508.4,196.4 L511.9,202.1 L514.7,197.0 L518.7,199.3 L522.7,196.4 L525.6,199.3 L528.0,196.5 L530.6,204.5 L533.6,206.5 L536.2,206.6 L539.9,218.4 L543.6,215.3 L547.3,212.8 L551.0,212.8 L554.1,217.2 L557.2,229.6 L559.1,201.1 L559.7,197.3" fill="none" stroke="#ff00ff" stroke-width="1.9" stroke-linejoin="round"/>
<line x1="431.00" y1="236.80" x2="444.50" y2="236.80" stroke="#111" stroke-width="1.8" />
<line x1="460.80" y1="236.80" x2="481.30" y2="236.80" stroke="#111" stroke-width="1.8" />
<line x1="486.60" y1="236.80" x2="499.50" y2="236.80" stroke="#111" stroke-width="1.8" />
<line x1="506.30" y1="236.80" x2="517.90" y2="236.80" stroke="#111" stroke-width="1.8" />
<path d="M47.5,340.9 L49.0,342.6 L50.7,346.0 L53.0,346.6 L54.7,345.4 L56.4,352.9 L58.1,355.7 L60.4,350.0 L62.7,351.7 L65.0,354.0 L66.1,352.3 L67.9,355.7 L70.1,366.6 L73.0,375.1 L76.6,388.7 L78.9,389.9 L82.3,393.3 L86.3,384.1 L90.3,403.6 L96.6,437.6 L101.1,409.3 L104.0,375.0 L106.0,362.6 L108.0,368.0 L110.3,372.9 L113.7,375.4 L117.2,386.6 L121.4,366.0 L125.7,355.7 L128.3,352.3 L130.0,354.3 L132.6,360.9 L136.6,337.7 L139.4,329.7 L142.5,309.5 L145.7,322.9 L149.1,336.6 L153.1,349.1 L154.9,357.0 L158.0,369.7 L161.3,378.3 L165.3,393.0 L167.3,388.3 L170.0,394.3 L172.7,398.3 L174.7,394.3" fill="none" stroke="#0000ff" stroke-width="1.9" stroke-linejoin="round"/>
<path d="M47.5,343.7 L49.0,338.6 L50.7,341.4 L52.4,339.1 L54.1,344.9 L56.4,347.1 L58.7,348.9 L61.6,354.0 L63.9,365.4 L66.7,373.4 L69.0,383.7 L72.4,387.1 L76.0,386.4 L78.9,384.7 L83.4,386.4 L86.9,384.1 L89.1,395.6 L96.6,437.6 L100.0,419.0 L102.9,407.0 L105.1,396.9 L108.6,403.8 L112.9,386.6 L117.2,372.9 L122.3,360.9 L125.7,352.3 L130.9,347.2 L132.6,340.0 L135.4,326.3 L137.7,316.6 L140.0,313.7 L141.7,306.9 L143.4,311.4 L146.3,328.6 L149.1,337.7 L152.6,344.6 L156.0,359.7 L160.0,371.0 L164.0,379.0 L166.7,381.7 L169.3,390.3 L172.0,395.7 L174.7,391.7" fill="none" stroke="#ff00ff" stroke-width="1.9" stroke-linejoin="round"/>
<line x1="100.90" y1="476.40" x2="113.50" y2="476.40" stroke="#111" stroke-width="1.8" />
<path d="M239.3,388.7 L241.6,393.3 L246.0,397.5 L248.4,390.0 L250.7,380.7 L253.0,381.9 L255.3,375.0 L258.1,371.6 L261.0,365.9 L263.3,365.9 L266.1,359.0 L267.9,356.7 L270.1,369.3 L272.4,370.4 L274.0,384.0 L277.2,400.0 L280.0,420.0 L283.2,448.0 L286.0,468.0 L288.0,474.0 L290.0,472.0 L294.0,452.0 L298.0,432.0 L301.2,416.0 L304.0,388.0 L306.8,360.0 L308.0,330.0 L312.1,291.3 L314.0,302.0 L318.2,308.9 L320.7,330.0 L323.3,340.7 L326.0,348.7 L328.7,362.0 L332.0,374.0 L335.3,386.0 L338.7,392.0 L342.7,387.3 L346.0,380.7 L349.3,371.3 L352.7,375.3 L355.3,376.7 L358.7,382.0 L362.0,380.0 L364.7,384.7 L366.7,388.7" fill="none" stroke="#0000ff" stroke-width="1.9" stroke-linejoin="round"/>
<path d="M239.3,380.7 L241.6,387.6 L246.0,396.4 L248.4,392.1 L251.9,388.0 L254.7,379.6 L257.6,375.0 L259.9,378.4 L262.7,384.1 L265.6,383.6 L267.9,384.1 L270.1,379.6 L273.6,378.4 L275.0,386.0 L277.7,401.0 L280.5,421.0 L283.5,448.0 L286.2,468.0 L288.0,474.5 L290.5,472.5 L292.0,468.0 L296.0,448.0 L302.0,428.0 L308.0,400.0 L312.0,372.0 L316.0,348.0 L318.0,341.3 L320.7,354.0 L322.7,362.0 L324.7,367.3 L328.7,374.0 L333.3,384.7 L338.0,394.7 L341.3,391.3 L344.7,382.0 L347.3,387.3 L351.3,382.0 L354.7,388.0 L359.3,374.0 L362.7,382.0 L366.0,389.3" fill="none" stroke="#ff00ff" stroke-width="1.9" stroke-linejoin="round"/>
<line x1="298.60" y1="476.40" x2="326.00" y2="476.40" stroke="#111" stroke-width="1.8" />
<path d="M431.4,385.7 L433.7,382.3 L437.1,379.4 L441.1,381.1 L444.6,387.2 L448.6,374.3 L452.6,369.1 L456.6,367.4 L460.6,373.7 L464.6,383.8 L466.9,390.6 L470.3,377.7 L474.3,369.7 L476.0,370.3 L478.3,369.7 L480.6,379.4 L484.0,375.4 L486.3,369.1 L489.6,371.3 L492.4,367.9 L494.1,371.3 L496.4,365.0 L498.7,364.4 L502.1,357.6 L504.4,367.9 L506.1,378.7 L508.4,370.7 L510.7,366.1 L513.6,367.3 L517.0,359.9 L519.3,365.0 L521.6,371.3 L525.0,365.6 L529.0,374.0 L532.6,373.3 L535.3,376.0 L538.1,370.1 L540.4,379.5 L544.0,377.1 L547.9,396.2 L552.6,411.4 L555.5,432.4 L557.8,447.6 L559.7,432.4" fill="none" stroke="#0000ff" stroke-width="1.9" stroke-linejoin="round"/>
<path d="M431.4,394.5 L433.1,388.6 L434.9,386.0 L436.6,389.7 L438.9,385.1 L441.7,392.0 L444.6,397.7 L447.4,397.7 L449.7,402.9 L452.6,409.1 L454.9,403.4 L458.3,402.9 L462.3,401.7 L466.9,406.9 L469.7,398.3 L472.6,386.9 L476.0,384.0 L478.3,382.9 L481.7,381.1 L485.0,373.5 L487.3,379.3 L490.1,380.4 L492.4,377.6 L496.4,386.1 L499.9,387.9 L502.7,389.0 L505.6,386.1 L509.6,386.7 L512.4,389.6 L515.3,387.3 L518.7,383.3 L521.6,385.6 L524.4,384.4 L527.9,392.4 L530.7,386.1 L533.0,387.9 L535.3,381.6 L537.6,372.4 L541.0,379.3 L544.4,382.7 L548.8,400.0 L553.6,411.4 L556.4,429.5 L559.3,420.0" fill="none" stroke="#ff00ff" stroke-width="1.9" stroke-linejoin="round"/>
<line x1="442.90" y1="476.40" x2="456.30" y2="476.40" stroke="#111" stroke-width="1.8" />
<line x1="490.30" y1="476.40" x2="525.30" y2="476.40" stroke="#111" stroke-width="1.8" />
<line x1="624.40" y1="33.00" x2="624.40" y2="128.30" stroke="#444" stroke-width="1.1" />
<line x1="621.20" y1="128.30" x2="624.40" y2="128.30" stroke="#444" stroke-width="1.1" />
<line x1="621.20" y1="107.25" x2="624.40" y2="107.25" stroke="#444" stroke-width="1.1" />
<line x1="621.20" y1="86.20" x2="624.40" y2="86.20" stroke="#444" stroke-width="1.1" />
<line x1="621.20" y1="65.15" x2="624.40" y2="65.15" stroke="#444" stroke-width="1.1" />
<line x1="621.20" y1="44.10" x2="624.40" y2="44.10" stroke="#444" stroke-width="1.1" />
<rect x="632.30" y="89.57" width="8.20" height="38.73" fill="#0000ff" stroke="#111" stroke-width="0.9"/>
<line x1="636.40" y1="88.73" x2="636.40" y2="90.41" stroke="#111" stroke-width="1.0" />
<line x1="634.80" y1="88.73" x2="638.00" y2="88.73" stroke="#111" stroke-width="1.0" />
<line x1="634.80" y1="90.41" x2="638.00" y2="90.41" stroke="#111" stroke-width="1.0" />
<rect x="640.50" y="92.09" width="8.20" height="36.21" fill="#ff00ff" stroke="#111" stroke-width="0.9"/>
<line x1="644.60" y1="91.46" x2="644.60" y2="92.73" stroke="#111" stroke-width="1.0" />
<line x1="643.00" y1="91.46" x2="646.20" y2="91.46" stroke="#111" stroke-width="1.0" />
<line x1="643.00" y1="92.73" x2="646.20" y2="92.73" stroke="#111" stroke-width="1.0" />
<line x1="640.50" y1="128.30" x2="640.50" y2="131.70" stroke="#333" stroke-width="1.0" />
<rect x="659.50" y="100.09" width="8.20" height="28.21" fill="#0000ff" stroke="#111" stroke-width="0.9"/>
<line x1="663.60" y1="97.15" x2="663.60" y2="103.04" stroke="#111" stroke-width="1.0" />
<line x1="662.00" y1="97.15" x2="665.20" y2="97.15" stroke="#111" stroke-width="1.0" />
<line x1="662.00" y1="103.04" x2="665.20" y2="103.04" stroke="#111" stroke-width="1.0" />
<rect x="667.70" y="103.67" width="8.20" height="24.63" fill="#ff00ff" stroke="#111" stroke-width="0.9"/>
<line x1="671.80" y1="101.15" x2="671.80" y2="106.20" stroke="#111" stroke-width="1.0" />
<line x1="670.20" y1="101.15" x2="673.40" y2="101.15" stroke="#111" stroke-width="1.0" />
<line x1="670.20" y1="106.20" x2="673.40" y2="106.20" stroke="#111" stroke-width="1.0" />
<line x1="667.70" y1="128.30" x2="667.70" y2="131.70" stroke="#333" stroke-width="1.0" />
<rect x="686.50" y="106.62" width="8.20" height="21.68" fill="#0000ff" stroke="#111" stroke-width="0.9"/>
<line x1="690.60" y1="104.93" x2="690.60" y2="108.30" stroke="#111" stroke-width="1.0" />
<line x1="689.00" y1="104.93" x2="692.20" y2="104.93" stroke="#111" stroke-width="1.0" />
<line x1="689.00" y1="108.30" x2="692.20" y2="108.30" stroke="#111" stroke-width="1.0" />
<rect x="694.70" y="109.36" width="8.20" height="18.95" fill="#ff00ff" stroke="#111" stroke-width="0.9"/>
<line x1="698.80" y1="107.88" x2="698.80" y2="110.83" stroke="#111" stroke-width="1.0" />
<line x1="697.20" y1="107.88" x2="700.40" y2="107.88" stroke="#111" stroke-width="1.0" />
<line x1="697.20" y1="110.83" x2="700.40" y2="110.83" stroke="#111" stroke-width="1.0" />
<line x1="694.70" y1="128.30" x2="694.70" y2="131.70" stroke="#333" stroke-width="1.0" />
<rect x="713.70" y="106.20" width="8.20" height="22.10" fill="#0000ff" stroke="#111" stroke-width="0.9"/>
<line x1="717.80" y1="105.57" x2="717.80" y2="106.83" stroke="#111" stroke-width="1.0" />
<line x1="716.20" y1="105.57" x2="719.40" y2="105.57" stroke="#111" stroke-width="1.0" />
<line x1="716.20" y1="106.83" x2="719.40" y2="106.83" stroke="#111" stroke-width="1.0" />
<rect x="721.90" y="110.20" width="8.20" height="18.10" fill="#ff00ff" stroke="#111" stroke-width="0.9"/>
<line x1="726.00" y1="109.78" x2="726.00" y2="110.62" stroke="#111" stroke-width="1.0" />
<line x1="724.40" y1="109.78" x2="727.60" y2="109.78" stroke="#111" stroke-width="1.0" />
<line x1="724.40" y1="110.62" x2="727.60" y2="110.62" stroke="#111" stroke-width="1.0" />
<line x1="721.90" y1="128.30" x2="721.90" y2="131.70" stroke="#333" stroke-width="1.0" />
<line x1="621.20" y1="128.30" x2="736.00" y2="128.30" stroke="#111" stroke-width="1.4" />
<line x1="636.90" y1="83.00" x2="644.10" y2="83.00" stroke="#555" stroke-width="1.0" />
<line x1="664.10" y1="91.60" x2="671.30" y2="91.60" stroke="#555" stroke-width="1.0" />
<line x1="691.10" y1="98.30" x2="698.30" y2="98.30" stroke="#555" stroke-width="1.0" />
<line x1="718.30" y1="99.20" x2="725.50" y2="99.20" stroke="#555" stroke-width="1.0" />
<line x1="624.40" y1="148.30" x2="624.40" y2="243.30" stroke="#999" stroke-width="1.2" />
<line x1="621.20" y1="156.80" x2="624.40" y2="156.80" stroke="#555" stroke-width="1.0" />
<line x1="621.20" y1="174.10" x2="624.40" y2="174.10" stroke="#555" stroke-width="1.0" />
<line x1="621.20" y1="191.40" x2="624.40" y2="191.40" stroke="#555" stroke-width="1.0" />
<line x1="621.20" y1="208.70" x2="624.40" y2="208.70" stroke="#555" stroke-width="1.0" />
<line x1="621.20" y1="226.00" x2="624.40" y2="226.00" stroke="#555" stroke-width="1.0" />
<line x1="621.20" y1="243.30" x2="624.40" y2="243.30" stroke="#555" stroke-width="1.0" />
<rect x="634.90" y="156.80" width="11.00" height="4.32" fill="#c6c6c6" stroke="#444" stroke-width="0.9"/>
<line x1="640.50" y1="156.80" x2="640.50" y2="165.45" stroke="#222" stroke-width="1.0" />
<line x1="638.90" y1="156.80" x2="642.10" y2="156.80" stroke="#222" stroke-width="1.0" />
<line x1="638.90" y1="165.45" x2="642.10" y2="165.45" stroke="#222" stroke-width="1.0" />
<line x1="640.50" y1="153.20" x2="640.50" y2="156.80" stroke="#555" stroke-width="1.0" />
<rect x="662.10" y="156.80" width="11.00" height="24.65" fill="#c6c6c6" stroke="#444" stroke-width="0.9"/>
<line x1="667.70" y1="176.26" x2="667.70" y2="186.64" stroke="#222" stroke-width="1.0" />
<line x1="666.10" y1="176.26" x2="669.30" y2="176.26" stroke="#222" stroke-width="1.0" />
<line x1="666.10" y1="186.64" x2="669.30" y2="186.64" stroke="#222" stroke-width="1.0" />
<line x1="667.70" y1="153.20" x2="667.70" y2="156.80" stroke="#555" stroke-width="1.0" />
<rect x="689.10" y="156.80" width="11.00" height="30.71" fill="#c6c6c6" stroke="#444" stroke-width="0.9"/>
<line x1="694.70" y1="180.59" x2="694.70" y2="194.43" stroke="#222" stroke-width="1.0" />
<line x1="693.10" y1="180.59" x2="696.30" y2="180.59" stroke="#222" stroke-width="1.0" />
<line x1="693.10" y1="194.43" x2="696.30" y2="194.43" stroke="#222" stroke-width="1.0" />
<line x1="694.70" y1="153.20" x2="694.70" y2="156.80" stroke="#555" stroke-width="1.0" />
<rect x="716.30" y="156.80" width="11.00" height="45.41" fill="#c6c6c6" stroke="#444" stroke-width="0.9"/>
<line x1="721.90" y1="197.46" x2="721.90" y2="206.97" stroke="#222" stroke-width="1.0" />
<line x1="720.30" y1="197.46" x2="723.50" y2="197.46" stroke="#222" stroke-width="1.0" />
<line x1="720.30" y1="206.97" x2="723.50" y2="206.97" stroke="#222" stroke-width="1.0" />
<line x1="721.90" y1="153.20" x2="721.90" y2="156.80" stroke="#555" stroke-width="1.0" />
<line x1="624.40" y1="156.80" x2="735.00" y2="156.80" stroke="#777" stroke-width="1.2" />
<path d="M666.5,245.5 L666.5,247.3 L691.6,247.3 L691.6,245.5" fill="none" stroke="#666" stroke-width="1"/>
<path d="M696.3,245.5 L696.3,247.3 L721.2,247.3 L721.2,245.5" fill="none" stroke="#666" stroke-width="1"/>
<path d="M666.5,253.6 L666.5,255.4 L721.2,255.4 L721.2,253.6" fill="none" stroke="#666" stroke-width="1"/>
<line x1="623.40" y1="277.00" x2="623.40" y2="372.30" stroke="#444" stroke-width="1.1" />
<line x1="620.20" y1="372.30" x2="623.40" y2="372.30" stroke="#444" stroke-width="1.1" />
<line x1="620.20" y1="351.25" x2="623.40" y2="351.25" stroke="#444" stroke-width="1.1" />
<line x1="620.20" y1="330.20" x2="623.40" y2="330.20" stroke="#444" stroke-width="1.1" />
<line x1="620.20" y1="309.15" x2="623.40" y2="309.15" stroke="#444" stroke-width="1.1" />
<line x1="620.20" y1="288.10" x2="623.40" y2="288.10" stroke="#444" stroke-width="1.1" />
<rect x="631.30" y="314.31" width="8.20" height="57.99" fill="#0000ff" stroke="#111" stroke-width="0.9"/>
<line x1="635.40" y1="312.41" x2="635.40" y2="316.20" stroke="#111" stroke-width="1.0" />
<line x1="633.80" y1="312.41" x2="637.00" y2="312.41" stroke="#111" stroke-width="1.0" />
<line x1="633.80" y1="316.20" x2="637.00" y2="316.20" stroke="#111" stroke-width="1.0" />
<rect x="639.50" y="316.73" width="8.20" height="55.57" fill="#ff00ff" stroke="#111" stroke-width="0.9"/>
<line x1="643.60" y1="313.89" x2="643.60" y2="319.57" stroke="#111" stroke-width="1.0" />
<line x1="642.00" y1="313.89" x2="645.20" y2="313.89" stroke="#111" stroke-width="1.0" />
<line x1="642.00" y1="319.57" x2="645.20" y2="319.57" stroke="#111" stroke-width="1.0" />
<line x1="639.50" y1="372.30" x2="639.50" y2="375.70" stroke="#333" stroke-width="1.0" />
<rect x="658.50" y="317.15" width="8.20" height="55.15" fill="#0000ff" stroke="#111" stroke-width="0.9"/>
<line x1="662.60" y1="315.25" x2="662.60" y2="319.04" stroke="#111" stroke-width="1.0" />
<line x1="661.00" y1="315.25" x2="664.20" y2="315.25" stroke="#111" stroke-width="1.0" />
<line x1="661.00" y1="319.04" x2="664.20" y2="319.04" stroke="#111" stroke-width="1.0" />
<rect x="666.70" y="317.78" width="8.20" height="54.52" fill="#ff00ff" stroke="#111" stroke-width="0.9"/>
<line x1="670.80" y1="315.25" x2="670.80" y2="320.31" stroke="#111" stroke-width="1.0" />
<line x1="669.20" y1="315.25" x2="672.40" y2="315.25" stroke="#111" stroke-width="1.0" />
<line x1="669.20" y1="320.31" x2="672.40" y2="320.31" stroke="#111" stroke-width="1.0" />
<line x1="666.70" y1="372.30" x2="666.70" y2="375.70" stroke="#333" stroke-width="1.0" />
<rect x="685.50" y="325.36" width="8.20" height="46.94" fill="#0000ff" stroke="#111" stroke-width="0.9"/>
<line x1="689.60" y1="322.73" x2="689.60" y2="327.99" stroke="#111" stroke-width="1.0" />
<line x1="688.00" y1="322.73" x2="691.20" y2="322.73" stroke="#111" stroke-width="1.0" />
<line x1="688.00" y1="327.99" x2="691.20" y2="327.99" stroke="#111" stroke-width="1.0" />
<rect x="693.70" y="331.04" width="8.20" height="41.26" fill="#ff00ff" stroke="#111" stroke-width="0.9"/>
<line x1="697.80" y1="328.94" x2="697.80" y2="333.15" stroke="#111" stroke-width="1.0" />
<line x1="696.20" y1="328.94" x2="699.40" y2="328.94" stroke="#111" stroke-width="1.0" />
<line x1="696.20" y1="333.15" x2="699.40" y2="333.15" stroke="#111" stroke-width="1.0" />
<line x1="693.70" y1="372.30" x2="693.70" y2="375.70" stroke="#333" stroke-width="1.0" />
<rect x="712.70" y="324.31" width="8.20" height="47.99" fill="#0000ff" stroke="#111" stroke-width="0.9"/>
<line x1="716.80" y1="323.46" x2="716.80" y2="325.15" stroke="#111" stroke-width="1.0" />
<line x1="715.20" y1="323.46" x2="718.40" y2="323.46" stroke="#111" stroke-width="1.0" />
<line x1="715.20" y1="325.15" x2="718.40" y2="325.15" stroke="#111" stroke-width="1.0" />
<rect x="720.90" y="330.41" width="8.20" height="41.89" fill="#ff00ff" stroke="#111" stroke-width="0.9"/>
<line x1="725.00" y1="329.88" x2="725.00" y2="330.94" stroke="#111" stroke-width="1.0" />
<line x1="723.40" y1="329.88" x2="726.60" y2="329.88" stroke="#111" stroke-width="1.0" />
<line x1="723.40" y1="330.94" x2="726.60" y2="330.94" stroke="#111" stroke-width="1.0" />
<line x1="720.90" y1="372.30" x2="720.90" y2="375.70" stroke="#333" stroke-width="1.0" />
<line x1="620.20" y1="372.30" x2="736.00" y2="372.30" stroke="#111" stroke-width="1.4" />
<line x1="635.90" y1="305.50" x2="643.10" y2="305.50" stroke="#555" stroke-width="1.0" />
<line x1="663.10" y1="309.50" x2="670.30" y2="309.50" stroke="#555" stroke-width="1.0" />
<line x1="690.10" y1="316.60" x2="697.30" y2="316.60" stroke="#555" stroke-width="1.0" />
<line x1="717.30" y1="316.60" x2="724.50" y2="316.60" stroke="#555" stroke-width="1.0" />
<line x1="623.40" y1="392.60" x2="623.40" y2="487.60" stroke="#555" stroke-width="1.2" />
<line x1="620.20" y1="401.10" x2="623.40" y2="401.10" stroke="#555" stroke-width="1.0" />
<line x1="620.20" y1="418.40" x2="623.40" y2="418.40" stroke="#555" stroke-width="1.0" />
<line x1="620.20" y1="435.70" x2="623.40" y2="435.70" stroke="#555" stroke-width="1.0" />
<line x1="620.20" y1="453.00" x2="623.40" y2="453.00" stroke="#555" stroke-width="1.0" />
<line x1="620.20" y1="470.30" x2="623.40" y2="470.30" stroke="#555" stroke-width="1.0" />
<line x1="620.20" y1="487.60" x2="623.40" y2="487.60" stroke="#555" stroke-width="1.0" />
<rect x="633.90" y="401.10" width="11.00" height="4.32" fill="#c6c6c6" stroke="#444" stroke-width="0.9"/>
<line x1="639.50" y1="400.67" x2="639.50" y2="410.18" stroke="#222" stroke-width="1.0" />
<line x1="637.90" y1="400.67" x2="641.10" y2="400.67" stroke="#222" stroke-width="1.0" />
<line x1="637.90" y1="410.18" x2="641.10" y2="410.18" stroke="#222" stroke-width="1.0" />
<line x1="639.50" y1="397.50" x2="639.50" y2="401.10" stroke="#555" stroke-width="1.0" />
<rect x="661.10" y="401.10" width="11.00" height="0.87" fill="#c6c6c6" stroke="#444" stroke-width="0.9"/>
<line x1="666.70" y1="398.51" x2="666.70" y2="405.43" stroke="#222" stroke-width="1.0" />
<line x1="665.10" y1="398.51" x2="668.30" y2="398.51" stroke="#222" stroke-width="1.0" />
<line x1="665.10" y1="405.43" x2="668.30" y2="405.43" stroke="#222" stroke-width="1.0" />
<line x1="666.70" y1="397.50" x2="666.70" y2="401.10" stroke="#555" stroke-width="1.0" />
<rect x="688.10" y="401.10" width="11.00" height="29.41" fill="#c6c6c6" stroke="#444" stroke-width="0.9"/>
<line x1="693.70" y1="425.75" x2="693.70" y2="435.27" stroke="#222" stroke-width="1.0" />
<line x1="692.10" y1="425.75" x2="695.30" y2="425.75" stroke="#222" stroke-width="1.0" />
<line x1="692.10" y1="435.27" x2="695.30" y2="435.27" stroke="#222" stroke-width="1.0" />
<line x1="693.70" y1="397.50" x2="693.70" y2="401.10" stroke="#555" stroke-width="1.0" />
<rect x="715.30" y="401.10" width="11.00" height="38.06" fill="#c6c6c6" stroke="#444" stroke-width="0.9"/>
<line x1="720.90" y1="436.13" x2="720.90" y2="442.19" stroke="#222" stroke-width="1.0" />
<line x1="719.30" y1="436.13" x2="722.50" y2="436.13" stroke="#222" stroke-width="1.0" />
<line x1="719.30" y1="442.19" x2="722.50" y2="442.19" stroke="#222" stroke-width="1.0" />
<line x1="720.90" y1="397.50" x2="720.90" y2="401.10" stroke="#555" stroke-width="1.0" />
<line x1="623.40" y1="401.10" x2="735.00" y2="401.10" stroke="#333" stroke-width="1.2" />
<path d="M666.5,487.3 L666.5,489.1 L691.6,489.1 L691.6,487.3" fill="none" stroke="#666" stroke-width="1"/>
<path d="M696.3,487.3 L696.3,489.1 L721.2,489.1 L721.2,487.3" fill="none" stroke="#666" stroke-width="1"/>
<path d="M666.5,494.8 L666.5,496.6 L721.2,496.6 L721.2,494.8" fill="none" stroke="#666" stroke-width="1"/>
<g style="opacity:0.995">
<text x="28.57" y="245.40" font-size="10.8" text-anchor="end" fill="#333" >0</text>
<text x="28.57" y="200.95" font-size="10.8" text-anchor="end" fill="#333" >1</text>
<text x="28.57" y="156.50" font-size="10.8" text-anchor="end" fill="#333" >2</text>
<text x="28.57" y="112.05" font-size="10.8" text-anchor="end" fill="#333" >3</text>
<text x="28.57" y="67.60" font-size="10.8" text-anchor="end" fill="#333" >4</text>
<text x="56.85" y="264.40" font-size="10.8" text-anchor="middle" fill="#333" >-100</text>
<text x="76.60" y="264.40" font-size="10.8" text-anchor="middle" fill="#333" >0</text>
<text x="96.35" y="264.40" font-size="10.8" text-anchor="middle" fill="#333" >100</text>
<text x="116.10" y="264.40" font-size="10.8" text-anchor="middle" fill="#333" >200</text>
<text x="135.85" y="264.40" font-size="10.8" text-anchor="middle" fill="#333" >300</text>
<text x="155.60" y="264.40" font-size="10.8" text-anchor="middle" fill="#333" >400</text>
<text x="175.35" y="264.40" font-size="10.8" text-anchor="middle" fill="#333" >500</text>
<text x="220.37" y="245.40" font-size="10.8" text-anchor="end" fill="#333" >0</text>
<text x="220.37" y="200.95" font-size="10.8" text-anchor="end" fill="#333" >1</text>
<text x="220.37" y="156.50" font-size="10.8" text-anchor="end" fill="#333" >2</text>
<text x="220.37" y="112.05" font-size="10.8" text-anchor="end" fill="#333" >3</text>
<text x="220.37" y="67.60" font-size="10.8" text-anchor="end" fill="#333" >4</text>
<text x="248.65" y="264.40" font-size="10.8" text-anchor="middle" fill="#333" >-100</text>
<text x="268.40" y="264.40" font-size="10.8" text-anchor="middle" fill="#333" >0</text>
<text x="288.15" y="264.40" font-size="10.8" text-anchor="middle" fill="#333" >100</text>
<text x="307.90" y="264.40" font-size="10.8" text-anchor="middle" fill="#333" >200</text>
<text x="327.65" y="264.40" font-size="10.8" text-anchor="middle" fill="#333" >300</text>
<text x="347.40" y="264.40" font-size="10.8" text-anchor="middle" fill="#333" >400</text>
<text x="367.15" y="264.40" font-size="10.8" text-anchor="middle" fill="#333" >500</text>
<text x="412.55" y="245.40" font-size="10.8" text-anchor="end" fill="#333" >0</text>
<text x="412.55" y="200.95" font-size="10.8" text-anchor="end" fill="#333" >1</text>
<text x="412.55" y="156.50" font-size="10.8" text-anchor="end" fill="#333" >2</text>
<text x="412.55" y="112.05" font-size="10.8" text-anchor="end" fill="#333" >3</text>
<text x="412.55" y="67.60" font-size="10.8" text-anchor="end" fill="#333" >4</text>
<text x="425.10" y="264.40" font-size="10.8" text-anchor="middle" fill="#333" >-500</text>
<text x="447.00" y="264.40" font-size="10.8" text-anchor="middle" fill="#333" >-400</text>
<text x="468.40" y="264.40" font-size="10.8" text-anchor="middle" fill="#333" >-300</text>
<text x="490.40" y="264.40" font-size="10.8" text-anchor="middle" fill="#333" >-200</text>
<text x="512.30" y="264.40" font-size="10.8" text-anchor="middle" fill="#333" >-100</text>
<text x="529.70" y="264.40" font-size="10.8" text-anchor="middle" fill="#333" >0</text>
<text x="549.45" y="264.40" font-size="10.8" text-anchor="middle" fill="#333" >100</text>
<text x="28.57" y="485.20" font-size="10.8" text-anchor="end" fill="#333" >0</text>
<text x="28.57" y="440.70" font-size="10.8" text-anchor="end" fill="#333" >1</text>
<text x="28.57" y="396.20" font-size="10.8" text-anchor="end" fill="#333" >2</text>
<text x="28.57" y="351.70" font-size="10.8" text-anchor="end" fill="#333" >3</text>
<text x="28.57" y="307.20" font-size="10.8" text-anchor="end" fill="#333" >4</text>
<text x="56.85" y="504.20" font-size="10.8" text-anchor="middle" fill="#333" >-100</text>
<text x="76.60" y="504.20" font-size="10.8" text-anchor="middle" fill="#333" >0</text>
<text x="96.35" y="504.20" font-size="10.8" text-anchor="middle" fill="#333" >100</text>
<text x="116.10" y="504.20" font-size="10.8" text-anchor="middle" fill="#333" >200</text>
<text x="135.85" y="504.20" font-size="10.8" text-anchor="middle" fill="#333" >300</text>
<text x="155.60" y="504.20" font-size="10.8" text-anchor="middle" fill="#333" >400</text>
<text x="175.35" y="504.20" font-size="10.8" text-anchor="middle" fill="#333" >500</text>
<text x="220.37" y="485.20" font-size="10.8" text-anchor="end" fill="#333" >0</text>
<text x="220.37" y="440.70" font-size="10.8" text-anchor="end" fill="#333" >1</text>
<text x="220.37" y="396.20" font-size="10.8" text-anchor="end" fill="#333" >2</text>
<text x="220.37" y="351.70" font-size="10.8" text-anchor="end" fill="#333" >3</text>
<text x="220.37" y="307.20" font-size="10.8" text-anchor="end" fill="#333" >4</text>
<text x="248.65" y="504.20" font-size="10.8" text-anchor="middle" fill="#333" >-100</text>
<text x="268.40" y="504.20" font-size="10.8" text-anchor="middle" fill="#333" >0</text>
<text x="288.15" y="504.20" font-size="10.8" text-anchor="middle" fill="#333" >100</text>
<text x="307.90" y="504.20" font-size="10.8" text-anchor="middle" fill="#333" >200</text>
<text x="327.65" y="504.20" font-size="10.8" text-anchor="middle" fill="#333" >300</text>
<text x="347.40" y="504.20" font-size="10.8" text-anchor="middle" fill="#333" >400</text>
<text x="367.15" y="504.20" font-size="10.8" text-anchor="middle" fill="#333" >500</text>
<text x="412.55" y="485.20" font-size="10.8" text-anchor="end" fill="#333" >0</text>
<text x="412.55" y="440.70" font-size="10.8" text-anchor="end" fill="#333" >1</text>
<text x="412.55" y="396.20" font-size="10.8" text-anchor="end" fill="#333" >2</text>
<text x="412.55" y="351.70" font-size="10.8" text-anchor="end" fill="#333" >3</text>
<text x="412.55" y="307.20" font-size="10.8" text-anchor="end" fill="#333" >4</text>
<text x="425.10" y="504.20" font-size="10.8" text-anchor="middle" fill="#333" >-500</text>
<text x="447.00" y="504.20" font-size="10.8" text-anchor="middle" fill="#333" >-400</text>
<text x="468.40" y="504.20" font-size="10.8" text-anchor="middle" fill="#333" >-300</text>
<text x="490.40" y="504.20" font-size="10.8" text-anchor="middle" fill="#333" >-200</text>
<text x="512.30" y="504.20" font-size="10.8" text-anchor="middle" fill="#333" >-100</text>
<text x="529.70" y="504.20" font-size="10.8" text-anchor="middle" fill="#333" >0</text>
<text x="549.45" y="504.20" font-size="10.8" text-anchor="middle" fill="#333" >100</text>
<text x="62.00" y="76.80" font-size="8.3" text-anchor="middle" fill="#333" >Control</text>
<text x="127.50" y="65.90" font-size="8.3" text-anchor="middle" fill="#333" >Period 1</text>
<text x="319.00" y="65.90" font-size="8.3" text-anchor="middle" fill="#333" >Period 2</text>
<text x="479.00" y="65.90" font-size="8.3" text-anchor="middle" fill="#333" >Period 3</text>
<text x="71.85" y="21.40" font-size="9.8" text-anchor="middle" fill="#333" letter-spacing="0.45">Cue</text>
<text x="71.85" y="31.80" font-size="9.8" text-anchor="middle" fill="#333" letter-spacing="0.45">onset</text>
<text x="101.35" y="21.40" font-size="9.8" text-anchor="middle" fill="#333" letter-spacing="0.45">Cue</text>
<text x="101.35" y="31.80" font-size="9.8" text-anchor="middle" fill="#333" letter-spacing="0.45">offset</text>
<text x="268.85" y="21.40" font-size="9.8" text-anchor="middle" fill="#333" letter-spacing="0.45">Stimulus</text>
<text x="268.85" y="31.80" font-size="9.8" text-anchor="middle" fill="#333" letter-spacing="0.45">onset</text>
<text x="530.45" y="19.80" font-size="9.8" text-anchor="middle" fill="#333" letter-spacing="0.45">Color</text>
<text x="530.45" y="30.20" font-size="9.8" text-anchor="middle" fill="#333" letter-spacing="0.45">change</text>
<text x="0" y="0" font-size="16" fill="#2a2a2a" transform="translate(2.83 36.0) scale(0.9 1)">A</text>
<text x="0" y="0" font-size="16" fill="#2a2a2a" transform="translate(193.65 36.0) scale(0.9 1)">B</text>
<text x="0" y="0" font-size="16" fill="#2a2a2a" transform="translate(383.46 36.0) scale(0.93 1)">C</text>
<text x="0" y="0" font-size="16" fill="#2a2a2a" transform="translate(578.05 36.0) scale(1.0 1)">D</text>
<text x="0" y="0" font-size="16" fill="#2a2a2a" transform="translate(3.56 277.8) scale(0.9 1)">E</text>
<text x="0" y="0" font-size="16" fill="#2a2a2a" transform="translate(193.61 277.8) scale(0.93 1)">F</text>
<text x="0" y="0" font-size="16" fill="#2a2a2a" transform="translate(383.55 277.8) scale(0.95 1)">G</text>
<text x="0" y="0" font-size="16" fill="#2a2a2a" transform="translate(578.85 277.8) scale(1.0 1)">H</text>
<text x="10.40" y="140.50" font-size="12.6" text-anchor="middle" fill="#333" transform="rotate(-90 10.4 140.5)">Rate (1/s)</text>
<text x="10.40" y="381.10" font-size="12.6" text-anchor="middle" fill="#333" transform="rotate(-90 10.4 381.1)">Rate (1/s)</text>
<text x="110.75" y="521.60" font-size="12.4" text-anchor="middle" fill="#333" >Time from cue onset (ms)</text>
<text x="302.10" y="521.60" font-size="12.4" text-anchor="middle" fill="#333" >Time from stimulus onset (ms)</text>
<text x="493.50" y="521.60" font-size="12.4" text-anchor="middle" fill="#333" >Time from color change (ms)</text>
<text x="710.80" y="7.90" font-size="9.8" text-anchor="start" fill="#333" letter-spacing="0.45">Easy</text>
<text x="710.60" y="23.10" font-size="9.8" text-anchor="start" fill="#333" letter-spacing="0.45">Hard</text>
<text x="617.00" y="131.40" font-size="8.6" text-anchor="end" fill="#333" textLength="4.4" lengthAdjust="spacingAndGlyphs">0</text>
<text x="617.00" y="110.35" font-size="8.6" text-anchor="end" fill="#333" textLength="4.4" lengthAdjust="spacingAndGlyphs">1</text>
<text x="617.00" y="89.30" font-size="8.6" text-anchor="end" fill="#333" textLength="4.4" lengthAdjust="spacingAndGlyphs">2</text>
<text x="617.00" y="68.25" font-size="8.6" text-anchor="end" fill="#333" textLength="4.4" lengthAdjust="spacingAndGlyphs">3</text>
<text x="617.00" y="47.20" font-size="8.6" text-anchor="end" fill="#333" textLength="4.4" lengthAdjust="spacingAndGlyphs">4</text>
<text x="641.60" y="80.60" font-size="7.7" text-anchor="middle" fill="#444" letter-spacing="0.3">ns</text>
<text x="668.80" y="89.20" font-size="7.7" text-anchor="middle" fill="#444" letter-spacing="0.3">ns</text>
<text x="695.80" y="95.90" font-size="7.7" text-anchor="middle" fill="#444" letter-spacing="0.3">ns</text>
<text x="722.40" y="99.40" font-size="8.6" text-anchor="middle" fill="#444" >***</text>
<text x="639.20" y="143.10" font-size="8.2" text-anchor="middle" fill="#333" transform="rotate(-15 639.20 140.40)">Control</text>
<text x="664.90" y="144.30" font-size="8.2" text-anchor="middle" fill="#333" transform="rotate(-15 664.90 141.60)">Period 1</text>
<text x="692.80" y="145.50" font-size="8.2" text-anchor="middle" fill="#333" transform="rotate(-15 692.80 142.80)">Period 2</text>
<text x="719.50" y="146.80" font-size="8.2" text-anchor="middle" fill="#333" transform="rotate(-15 719.50 144.10)">Period 3</text>
<text x="617.80" y="160.70" font-size="8.8" text-anchor="end" fill="#444" letter-spacing="0.35">0.00</text>
<text x="617.80" y="178.00" font-size="8.8" text-anchor="end" fill="#444" letter-spacing="0.35">-0.04</text>
<text x="617.80" y="195.30" font-size="8.8" text-anchor="end" fill="#444" letter-spacing="0.35">-0.08</text>
<text x="617.80" y="212.60" font-size="8.8" text-anchor="end" fill="#444" letter-spacing="0.35">-0.12</text>
<text x="617.80" y="229.90" font-size="8.8" text-anchor="end" fill="#444" letter-spacing="0.35">-0.16</text>
<text x="617.80" y="247.20" font-size="8.8" text-anchor="end" fill="#444" letter-spacing="0.35">-0.20</text>
<text x="680.00" y="254.30" font-size="7.5" text-anchor="middle" fill="#444" >ns</text>
<text x="709.30" y="254.90" font-size="7.8" text-anchor="middle" fill="#444" >*</text>
<text x="694.00" y="264.60" font-size="7.8" text-anchor="middle" fill="#444" >*</text>
<text x="590.50" y="200.40" font-size="9.8" text-anchor="middle" fill="#333" transform="rotate(-90 590.5 200.40)">DMI_rate</text>
<text x="616.00" y="375.40" font-size="8.6" text-anchor="end" fill="#333" textLength="4.4" lengthAdjust="spacingAndGlyphs">0</text>
<text x="616.00" y="354.35" font-size="8.6" text-anchor="end" fill="#333" textLength="4.4" lengthAdjust="spacingAndGlyphs">1</text>
<text x="616.00" y="333.30" font-size="8.6" text-anchor="end" fill="#333" textLength="4.4" lengthAdjust="spacingAndGlyphs">2</text>
<text x="616.00" y="312.25" font-size="8.6" text-anchor="end" fill="#333" textLength="4.4" lengthAdjust="spacingAndGlyphs">3</text>
<text x="616.00" y="291.20" font-size="8.6" text-anchor="end" fill="#333" textLength="4.4" lengthAdjust="spacingAndGlyphs">4</text>
<text x="640.60" y="303.10" font-size="7.7" text-anchor="middle" fill="#444" letter-spacing="0.3">ns</text>
<text x="667.80" y="307.10" font-size="7.7" text-anchor="middle" fill="#444" letter-spacing="0.3">ns</text>
<text x="694.20" y="316.80" font-size="8.6" text-anchor="middle" fill="#444" >*</text>
<text x="721.40" y="316.80" font-size="8.6" text-anchor="middle" fill="#444" >***</text>
<text x="639.20" y="387.30" font-size="8.2" text-anchor="middle" fill="#333" transform="rotate(-15 639.20 384.60)">Control</text>
<text x="664.90" y="388.50" font-size="8.2" text-anchor="middle" fill="#333" transform="rotate(-15 664.90 385.80)">Period 1</text>
<text x="692.80" y="389.70" font-size="8.2" text-anchor="middle" fill="#333" transform="rotate(-15 692.80 387.00)">Period 2</text>
<text x="719.50" y="391.00" font-size="8.2" text-anchor="middle" fill="#333" transform="rotate(-15 719.50 388.30)">Period 3</text>
<text x="616.80" y="405.00" font-size="8.8" text-anchor="end" fill="#444" letter-spacing="0.35">0.00</text>
<text x="616.80" y="422.30" font-size="8.8" text-anchor="end" fill="#444" letter-spacing="0.35">-0.04</text>
<text x="616.80" y="439.60" font-size="8.8" text-anchor="end" fill="#444" letter-spacing="0.35">-0.08</text>
<text x="616.80" y="456.90" font-size="8.8" text-anchor="end" fill="#444" letter-spacing="0.35">-0.12</text>
<text x="616.80" y="474.20" font-size="8.8" text-anchor="end" fill="#444" letter-spacing="0.35">-0.16</text>
<text x="616.80" y="491.50" font-size="8.8" text-anchor="end" fill="#444" letter-spacing="0.35">-0.20</text>
<text x="679.00" y="497.30" font-size="8.4" text-anchor="middle" fill="#444" >***</text>
<text x="709.30" y="496.70" font-size="7.8" text-anchor="middle" fill="#444" >*</text>
<text x="694.00" y="505.80" font-size="8.4" text-anchor="middle" fill="#444" >***</text>
<text x="0" y="0" font-size="13" text-anchor="middle" fill="#333" transform="translate(749.5 143) rotate(90)">Monkey G</text>
<text x="0" y="0" font-size="13" text-anchor="middle" fill="#333" transform="translate(749.5 388) rotate(90)">Monkey N</text>
<text x="590.50" y="81.30" font-size="9.3" text-anchor="middle" fill="#333" transform="rotate(-90 590.5 81.3)">Rate (1/s)</text>
<text x="590.50" y="325.30" font-size="9.3" text-anchor="middle" fill="#333" transform="rotate(-90 590.5 325.3)">Rate (1/s)</text>
</g>
</svg></body></html>
